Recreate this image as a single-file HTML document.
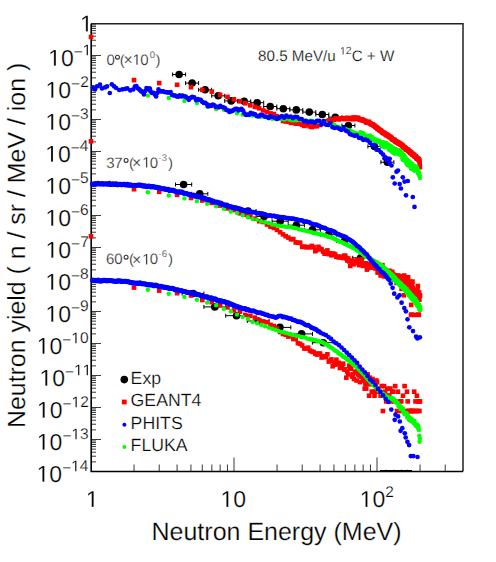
<!DOCTYPE html>
<html><head><meta charset="utf-8"><style>
html,body{margin:0;padding:0;background:#fff;}
body{width:496px;height:562px;overflow:hidden;}
svg{display:block;}
text{font-family:"Liberation Sans", sans-serif;text-rendering:geometricPrecision;stroke:#fff;stroke-width:0.25px;}
.g1{stroke:#fff;stroke-width:0.25px;}
</style></head><body>
<svg width="496" height="562" viewBox="0 0 496 562">
<rect width="496" height="562" fill="#fff"/>
<path d="M91.0 23.50h10 M91.0 45.87h5 M91.0 40.23h5 M91.0 36.23h5 M91.0 33.13h5 M91.0 30.60h5 M91.0 28.46h5 M91.0 26.60h5 M91.0 24.96h5 M91.0 55.50h10 M91.0 77.87h5 M91.0 72.23h5 M91.0 68.23h5 M91.0 65.13h5 M91.0 62.60h5 M91.0 60.46h5 M91.0 58.60h5 M91.0 56.96h5 M91.0 87.50h10 M91.0 109.87h5 M91.0 104.23h5 M91.0 100.23h5 M91.0 97.13h5 M91.0 94.60h5 M91.0 92.46h5 M91.0 90.60h5 M91.0 88.96h5 M91.0 119.50h10 M91.0 141.87h5 M91.0 136.23h5 M91.0 132.23h5 M91.0 129.13h5 M91.0 126.60h5 M91.0 124.46h5 M91.0 122.60h5 M91.0 120.96h5 M91.0 151.50h10 M91.0 173.87h5 M91.0 168.23h5 M91.0 164.23h5 M91.0 161.13h5 M91.0 158.60h5 M91.0 156.46h5 M91.0 154.60h5 M91.0 152.96h5 M91.0 183.50h10 M91.0 205.87h5 M91.0 200.23h5 M91.0 196.23h5 M91.0 193.13h5 M91.0 190.60h5 M91.0 188.46h5 M91.0 186.60h5 M91.0 184.96h5 M91.0 215.50h10 M91.0 237.87h5 M91.0 232.23h5 M91.0 228.23h5 M91.0 225.13h5 M91.0 222.60h5 M91.0 220.46h5 M91.0 218.60h5 M91.0 216.96h5 M91.0 247.50h10 M91.0 269.87h5 M91.0 264.23h5 M91.0 260.23h5 M91.0 257.13h5 M91.0 254.60h5 M91.0 252.46h5 M91.0 250.60h5 M91.0 248.96h5 M91.0 279.50h10 M91.0 301.87h5 M91.0 296.23h5 M91.0 292.23h5 M91.0 289.13h5 M91.0 286.60h5 M91.0 284.46h5 M91.0 282.60h5 M91.0 280.96h5 M91.0 311.50h10 M91.0 333.87h5 M91.0 328.23h5 M91.0 324.23h5 M91.0 321.13h5 M91.0 318.60h5 M91.0 316.46h5 M91.0 314.60h5 M91.0 312.96h5 M91.0 343.50h10 M91.0 365.87h5 M91.0 360.23h5 M91.0 356.23h5 M91.0 353.13h5 M91.0 350.60h5 M91.0 348.46h5 M91.0 346.60h5 M91.0 344.96h5 M91.0 375.50h10 M91.0 397.87h5 M91.0 392.23h5 M91.0 388.23h5 M91.0 385.13h5 M91.0 382.60h5 M91.0 380.46h5 M91.0 378.60h5 M91.0 376.96h5 M91.0 407.50h10 M91.0 429.87h5 M91.0 424.23h5 M91.0 420.23h5 M91.0 417.13h5 M91.0 414.60h5 M91.0 412.46h5 M91.0 410.60h5 M91.0 408.96h5 M91.0 439.50h10 M91.0 461.87h5 M91.0 456.23h5 M91.0 452.23h5 M91.0 449.13h5 M91.0 446.60h5 M91.0 444.46h5 M91.0 442.60h5 M91.0 440.96h5 M91.0 471.50h10 M134.05 471.5v-7 M159.23 471.5v-7 M177.09 471.5v-7 M190.95 471.5v-7 M202.28 471.5v-7 M211.85 471.5v-7 M220.14 471.5v-7 M227.46 471.5v-7 M234.00 471.5v-14 M277.05 471.5v-7 M302.23 471.5v-7 M320.09 471.5v-7 M333.95 471.5v-7 M345.28 471.5v-7 M354.85 471.5v-7 M363.14 471.5v-7 M370.46 471.5v-7 M377.00 471.5v-14 M420.05 471.5v-7 M445.23 471.5v-7" stroke="#3a3a3a" stroke-width="1" fill="none"/><path d="M380 470.6H412M385.9 469.8v1.5M394.1 469.8v1.5M401.6 469.8v1.5M407.1 469.8v1.5" stroke="#000" stroke-width="1.2" fill="none"/><path d="M91.2 23.8V471.5H463.0" stroke="#000" stroke-width="1.6" fill="none"/><path d="M91.2 23.8H463.0V471.5" stroke="#222" stroke-width="1.5" fill="none"/><g><path d="M172.6 74.5H185.6M172.6 72.5v4M185.6 72.5v4" stroke="#000" stroke-width="1" fill="none"/><circle cx="179.1" cy="74.5" r="3.8" fill="#000"/><path d="M185.6 83.1H198.6M185.6 81.1v4M198.6 81.1v4" stroke="#000" stroke-width="1" fill="none"/><circle cx="192.1" cy="83.1" r="3.8" fill="#000"/><path d="M198.6 89.8H211.6M198.6 87.8v4M211.6 87.8v4" stroke="#000" stroke-width="1" fill="none"/><circle cx="205.1" cy="89.8" r="3.8" fill="#000"/><path d="M211.7 95.8H224.7M211.7 93.8v4M224.7 93.8v4" stroke="#000" stroke-width="1" fill="none"/><circle cx="218.2" cy="95.8" r="3.8" fill="#000"/><path d="M224.7 100.9H237.7M224.7 98.9v4M237.7 98.9v4" stroke="#000" stroke-width="1" fill="none"/><circle cx="231.2" cy="100.9" r="3.8" fill="#000"/><path d="M237.7 101.3H250.7M237.7 99.3v4M250.7 99.3v4" stroke="#000" stroke-width="1" fill="none"/><circle cx="244.2" cy="101.3" r="3.8" fill="#000"/><path d="M250.7 102.7H263.7M250.7 100.7v4M263.7 100.7v4" stroke="#000" stroke-width="1" fill="none"/><circle cx="257.2" cy="102.7" r="3.8" fill="#000"/><path d="M263.7 106.5H276.8M263.7 104.5v4M276.8 104.5v4" stroke="#000" stroke-width="1" fill="none"/><circle cx="270.2" cy="106.5" r="3.8" fill="#000"/><path d="M276.8 108.7H289.8M276.8 106.7v4M289.8 106.7v4" stroke="#000" stroke-width="1" fill="none"/><circle cx="283.3" cy="108.7" r="3.8" fill="#000"/><path d="M289.8 109.9H302.8M289.8 107.9v4M302.8 107.9v4" stroke="#000" stroke-width="1" fill="none"/><circle cx="296.3" cy="109.9" r="3.8" fill="#000"/><path d="M302.8 112.1H315.8M302.8 110.1v4M315.8 110.1v4" stroke="#000" stroke-width="1" fill="none"/><circle cx="309.3" cy="112.1" r="3.8" fill="#000"/><path d="M315.8 114.5H328.8M315.8 112.5v4M328.8 112.5v4" stroke="#000" stroke-width="1" fill="none"/><circle cx="322.3" cy="114.5" r="3.8" fill="#000"/><path d="M328.8 117.2H341.9M328.8 115.2v4M341.9 115.2v4" stroke="#000" stroke-width="1" fill="none"/><circle cx="335.3" cy="117.2" r="3.8" fill="#000"/><path d="M341.9 125.5H354.9M341.9 123.5v4M354.9 123.5v4" stroke="#000" stroke-width="1" fill="none"/><circle cx="348.4" cy="125.5" r="3.8" fill="#000"/><path d="M354.9 136.0H367.9M354.9 134.0v4M367.9 134.0v4" stroke="#000" stroke-width="1" fill="none"/><circle cx="361.4" cy="136.0" r="3.8" fill="#000"/><path d="M367.9 146.5H380.9M367.9 144.5v4M380.9 144.5v4" stroke="#000" stroke-width="1" fill="none"/><circle cx="374.4" cy="146.5" r="3.8" fill="#000"/><path d="M380.9 162.2H393.9M380.9 160.2v4M393.9 160.2v4" stroke="#000" stroke-width="1" fill="none"/><circle cx="387.4" cy="162.2" r="3.8" fill="#000"/><path d="M175.5 184.5H191.7M175.5 182.5v4M191.7 182.5v4" stroke="#000" stroke-width="1" fill="none"/><circle cx="183.6" cy="184.5" r="3.8" fill="#000"/><path d="M191.6 193.8H207.8M191.6 191.8v4M207.8 191.8v4" stroke="#000" stroke-width="1" fill="none"/><circle cx="199.7" cy="193.8" r="3.8" fill="#000"/><path d="M239.9 211.1H256.1M239.9 209.1v4M256.1 209.1v4" stroke="#000" stroke-width="1" fill="none"/><circle cx="248.0" cy="211.1" r="3.8" fill="#000"/><path d="M256.1 216.5H272.2M256.1 214.5v4M272.2 214.5v4" stroke="#000" stroke-width="1" fill="none"/><circle cx="264.1" cy="216.5" r="3.8" fill="#000"/><path d="M272.1 221.2H288.2M272.1 219.2v4M288.2 219.2v4" stroke="#000" stroke-width="1" fill="none"/><circle cx="280.2" cy="221.2" r="3.8" fill="#000"/><path d="M288.2 225.2H304.4M288.2 223.2v4M304.4 223.2v4" stroke="#000" stroke-width="1" fill="none"/><circle cx="296.3" cy="225.2" r="3.8" fill="#000"/><path d="M304.3 229.8H320.4M304.3 227.8v4M320.4 227.8v4" stroke="#000" stroke-width="1" fill="none"/><circle cx="312.4" cy="229.8" r="3.8" fill="#000"/><path d="M320.4 234.7H336.6M320.4 232.7v4M336.6 232.7v4" stroke="#000" stroke-width="1" fill="none"/><circle cx="328.5" cy="234.7" r="3.8" fill="#000"/><path d="M336.6 240.8H352.7M336.6 238.8v4M352.7 238.8v4" stroke="#000" stroke-width="1" fill="none"/><circle cx="344.6" cy="240.8" r="3.8" fill="#000"/><path d="M352.7 257.8H368.8M352.7 255.8v4M368.8 255.8v4" stroke="#000" stroke-width="1" fill="none"/><circle cx="360.7" cy="257.8" r="3.8" fill="#000"/><path d="M182.2 293.5H203.9M182.2 291.5v4M203.9 291.5v4" stroke="#000" stroke-width="1" fill="none"/><circle cx="193.1" cy="293.5" r="3.8" fill="#000"/><path d="M203.9 306.9H225.6M203.9 304.9v4M225.6 304.9v4" stroke="#000" stroke-width="1" fill="none"/><circle cx="214.8" cy="306.9" r="3.8" fill="#000"/><path d="M225.7 315.7H247.3M225.7 313.7v4M247.3 313.7v4" stroke="#000" stroke-width="1" fill="none"/><circle cx="236.5" cy="315.7" r="3.8" fill="#000"/><path d="M247.3 321.0H269.1M247.3 319.0v4M269.1 319.0v4" stroke="#000" stroke-width="1" fill="none"/><circle cx="258.2" cy="321.0" r="3.8" fill="#000"/><path d="M269.0 327.4H290.8M269.0 325.4v4M290.8 325.4v4" stroke="#000" stroke-width="1" fill="none"/><circle cx="279.9" cy="327.4" r="3.8" fill="#000"/><path d="M290.8 333.9H312.5M290.8 331.9v4M312.5 331.9v4" stroke="#000" stroke-width="1" fill="none"/><circle cx="301.6" cy="333.9" r="3.8" fill="#000"/><path d="M312.4 342.7H334.1M312.4 340.7v4M334.1 340.7v4" stroke="#000" stroke-width="1" fill="none"/><circle cx="323.3" cy="342.7" r="3.8" fill="#000"/></g><g><rect x="88.7" y="34.6" width="4.6" height="4.6" fill="#ff0000"/><rect x="131.7" y="77.8" width="4.6" height="4.6" fill="#ff0000"/><rect x="156.9" y="80.8" width="4.6" height="4.6" fill="#ff0000"/><rect x="174.8" y="82.5" width="4.6" height="4.6" fill="#ff0000"/><rect x="188.7" y="84.9" width="4.6" height="4.6" fill="#ff0000"/><rect x="200.0" y="87.5" width="4.6" height="4.6" fill="#ff0000"/><rect x="209.5" y="89.3" width="4.6" height="4.6" fill="#ff0000"/><rect x="217.8" y="92.5" width="4.6" height="4.6" fill="#ff0000"/><rect x="225.2" y="94.6" width="4.6" height="4.6" fill="#ff0000"/><rect x="231.7" y="97.0" width="4.6" height="4.6" fill="#ff0000"/><rect x="237.6" y="99.0" width="4.6" height="4.6" fill="#ff0000"/><rect x="243.0" y="101.0" width="4.6" height="4.6" fill="#ff0000"/><rect x="248.0" y="103.0" width="4.6" height="4.6" fill="#ff0000"/><rect x="252.6" y="104.6" width="4.6" height="4.6" fill="#ff0000"/><rect x="256.9" y="106.0" width="4.6" height="4.6" fill="#ff0000"/><rect x="260.9" y="108.1" width="4.6" height="4.6" fill="#ff0000"/><rect x="264.7" y="109.5" width="4.6" height="4.6" fill="#ff0000"/><rect x="268.2" y="111.1" width="4.6" height="4.6" fill="#ff0000"/><rect x="271.6" y="111.7" width="4.6" height="4.6" fill="#ff0000"/><rect x="274.7" y="114.0" width="4.6" height="4.6" fill="#ff0000"/><rect x="277.8" y="115.8" width="4.6" height="4.6" fill="#ff0000"/><rect x="280.7" y="118.7" width="4.6" height="4.6" fill="#ff0000"/><rect x="283.4" y="119.2" width="4.6" height="4.6" fill="#ff0000"/><rect x="286.1" y="119.2" width="4.6" height="4.6" fill="#ff0000"/><rect x="288.6" y="120.6" width="4.6" height="4.6" fill="#ff0000"/><rect x="291.0" y="120.1" width="4.6" height="4.6" fill="#ff0000"/><rect x="293.4" y="121.4" width="4.6" height="4.6" fill="#ff0000"/><rect x="295.6" y="121.1" width="4.6" height="4.6" fill="#ff0000"/><rect x="297.8" y="121.5" width="4.6" height="4.6" fill="#ff0000"/><rect x="299.9" y="122.5" width="4.6" height="4.6" fill="#ff0000"/><rect x="302.0" y="123.6" width="4.6" height="4.6" fill="#ff0000"/><rect x="303.9" y="122.5" width="4.6" height="4.6" fill="#ff0000"/><rect x="305.8" y="123.0" width="4.6" height="4.6" fill="#ff0000"/><rect x="307.7" y="124.1" width="4.6" height="4.6" fill="#ff0000"/><rect x="309.5" y="124.8" width="4.6" height="4.6" fill="#ff0000"/><rect x="311.3" y="123.9" width="4.6" height="4.6" fill="#ff0000"/><rect x="313.0" y="123.2" width="4.6" height="4.6" fill="#ff0000"/><rect x="314.6" y="124.0" width="4.6" height="4.6" fill="#ff0000"/><rect x="316.2" y="121.6" width="4.6" height="4.6" fill="#ff0000"/><rect x="317.8" y="122.7" width="4.6" height="4.6" fill="#ff0000"/><rect x="319.3" y="120.9" width="4.6" height="4.6" fill="#ff0000"/><rect x="320.8" y="120.0" width="4.6" height="4.6" fill="#ff0000"/><rect x="322.3" y="119.3" width="4.6" height="4.6" fill="#ff0000"/><rect x="323.7" y="119.1" width="4.6" height="4.6" fill="#ff0000"/><rect x="325.1" y="119.7" width="4.6" height="4.6" fill="#ff0000"/><rect x="326.5" y="118.1" width="4.6" height="4.6" fill="#ff0000"/><rect x="327.8" y="118.5" width="4.6" height="4.6" fill="#ff0000"/><rect x="329.1" y="118.3" width="4.6" height="4.6" fill="#ff0000"/><rect x="330.4" y="117.5" width="4.6" height="4.6" fill="#ff0000"/><rect x="331.7" y="117.6" width="4.6" height="4.6" fill="#ff0000"/><rect x="332.9" y="116.4" width="4.6" height="4.6" fill="#ff0000"/><rect x="334.1" y="116.2" width="4.6" height="4.6" fill="#ff0000"/><rect x="335.3" y="116.3" width="4.6" height="4.6" fill="#ff0000"/><rect x="336.4" y="117.1" width="4.6" height="4.6" fill="#ff0000"/><rect x="337.6" y="116.5" width="4.6" height="4.6" fill="#ff0000"/><rect x="338.7" y="116.1" width="4.6" height="4.6" fill="#ff0000"/><rect x="339.8" y="116.6" width="4.6" height="4.6" fill="#ff0000"/><rect x="340.9" y="116.2" width="4.6" height="4.6" fill="#ff0000"/><rect x="341.9" y="115.8" width="4.6" height="4.6" fill="#ff0000"/><rect x="343.0" y="116.7" width="4.6" height="4.6" fill="#ff0000"/><rect x="344.0" y="116.5" width="4.6" height="4.6" fill="#ff0000"/><rect x="345.0" y="115.5" width="4.6" height="4.6" fill="#ff0000"/><rect x="346.0" y="116.1" width="4.6" height="4.6" fill="#ff0000"/><rect x="347.0" y="116.0" width="4.6" height="4.6" fill="#ff0000"/><rect x="347.9" y="116.7" width="4.6" height="4.6" fill="#ff0000"/><rect x="348.9" y="116.4" width="4.6" height="4.6" fill="#ff0000"/><rect x="349.8" y="115.5" width="4.6" height="4.6" fill="#ff0000"/><rect x="350.7" y="116.9" width="4.6" height="4.6" fill="#ff0000"/><rect x="351.7" y="115.2" width="4.6" height="4.6" fill="#ff0000"/><rect x="352.5" y="115.8" width="4.6" height="4.6" fill="#ff0000"/><rect x="353.4" y="116.6" width="4.6" height="4.6" fill="#ff0000"/><rect x="354.3" y="115.5" width="4.6" height="4.6" fill="#ff0000"/><rect x="355.2" y="116.3" width="4.6" height="4.6" fill="#ff0000"/><rect x="356.0" y="115.5" width="4.6" height="4.6" fill="#ff0000"/><rect x="356.8" y="116.9" width="4.6" height="4.6" fill="#ff0000"/><rect x="357.7" y="117.2" width="4.6" height="4.6" fill="#ff0000"/><rect x="358.5" y="117.0" width="4.6" height="4.6" fill="#ff0000"/><rect x="359.3" y="117.9" width="4.6" height="4.6" fill="#ff0000"/><rect x="360.1" y="117.1" width="4.6" height="4.6" fill="#ff0000"/><rect x="360.8" y="118.2" width="4.6" height="4.6" fill="#ff0000"/><rect x="361.6" y="118.4" width="4.6" height="4.6" fill="#ff0000"/><rect x="362.4" y="118.7" width="4.6" height="4.6" fill="#ff0000"/><rect x="363.1" y="118.8" width="4.6" height="4.6" fill="#ff0000"/><rect x="363.9" y="119.9" width="4.6" height="4.6" fill="#ff0000"/><rect x="364.6" y="120.4" width="4.6" height="4.6" fill="#ff0000"/><rect x="365.3" y="119.7" width="4.6" height="4.6" fill="#ff0000"/><rect x="366.1" y="120.4" width="4.6" height="4.6" fill="#ff0000"/><rect x="366.8" y="119.5" width="4.6" height="4.6" fill="#ff0000"/><rect x="367.5" y="121.1" width="4.6" height="4.6" fill="#ff0000"/><rect x="368.2" y="121.2" width="4.6" height="4.6" fill="#ff0000"/><rect x="368.8" y="121.9" width="4.6" height="4.6" fill="#ff0000"/><rect x="369.5" y="122.1" width="4.6" height="4.6" fill="#ff0000"/><rect x="370.2" y="122.0" width="4.6" height="4.6" fill="#ff0000"/><rect x="370.9" y="122.6" width="4.6" height="4.6" fill="#ff0000"/><rect x="371.5" y="123.5" width="4.6" height="4.6" fill="#ff0000"/><rect x="372.2" y="123.4" width="4.6" height="4.6" fill="#ff0000"/><rect x="372.8" y="124.4" width="4.6" height="4.6" fill="#ff0000"/><rect x="373.4" y="124.7" width="4.6" height="4.6" fill="#ff0000"/><rect x="374.1" y="125.1" width="4.6" height="4.6" fill="#ff0000"/><rect x="374.7" y="125.5" width="4.6" height="4.6" fill="#ff0000"/><rect x="375.3" y="126.6" width="4.6" height="4.6" fill="#ff0000"/><rect x="375.9" y="126.4" width="4.6" height="4.6" fill="#ff0000"/><rect x="376.5" y="127.0" width="4.6" height="4.6" fill="#ff0000"/><rect x="377.1" y="127.5" width="4.6" height="4.6" fill="#ff0000"/><rect x="377.7" y="128.4" width="4.6" height="4.6" fill="#ff0000"/><rect x="378.3" y="128.0" width="4.6" height="4.6" fill="#ff0000"/><rect x="378.9" y="128.8" width="4.6" height="4.6" fill="#ff0000"/><rect x="379.5" y="129.3" width="4.6" height="4.6" fill="#ff0000"/><rect x="380.1" y="130.0" width="4.6" height="4.6" fill="#ff0000"/><rect x="380.6" y="130.4" width="4.6" height="4.6" fill="#ff0000"/><rect x="381.2" y="130.8" width="4.6" height="4.6" fill="#ff0000"/><rect x="381.7" y="130.6" width="4.6" height="4.6" fill="#ff0000"/><rect x="382.3" y="131.1" width="4.6" height="4.6" fill="#ff0000"/><rect x="382.8" y="131.4" width="4.6" height="4.6" fill="#ff0000"/><rect x="383.4" y="132.3" width="4.6" height="4.6" fill="#ff0000"/><rect x="383.9" y="132.8" width="4.6" height="4.6" fill="#ff0000"/><rect x="384.5" y="132.3" width="4.6" height="4.6" fill="#ff0000"/><rect x="385.0" y="132.7" width="4.6" height="4.6" fill="#ff0000"/><rect x="385.5" y="133.1" width="4.6" height="4.6" fill="#ff0000"/><rect x="386.0" y="133.5" width="4.6" height="4.6" fill="#ff0000"/><rect x="386.5" y="134.1" width="4.6" height="4.6" fill="#ff0000"/><rect x="387.0" y="134.6" width="4.6" height="4.6" fill="#ff0000"/><rect x="387.6" y="134.6" width="4.6" height="4.6" fill="#ff0000"/><rect x="388.1" y="134.7" width="4.6" height="4.6" fill="#ff0000"/><rect x="388.6" y="135.5" width="4.6" height="4.6" fill="#ff0000"/><rect x="389.1" y="135.7" width="4.6" height="4.6" fill="#ff0000"/><rect x="389.5" y="136.3" width="4.6" height="4.6" fill="#ff0000"/><rect x="390.0" y="137.0" width="4.6" height="4.6" fill="#ff0000"/><rect x="390.5" y="137.1" width="4.6" height="4.6" fill="#ff0000"/><rect x="391.0" y="137.2" width="4.6" height="4.6" fill="#ff0000"/><rect x="391.5" y="137.6" width="4.6" height="4.6" fill="#ff0000"/><rect x="391.9" y="138.0" width="4.6" height="4.6" fill="#ff0000"/><rect x="392.4" y="137.7" width="4.6" height="4.6" fill="#ff0000"/><rect x="392.9" y="138.9" width="4.6" height="4.6" fill="#ff0000"/><rect x="393.3" y="139.1" width="4.6" height="4.6" fill="#ff0000"/><rect x="393.8" y="139.5" width="4.6" height="4.6" fill="#ff0000"/><rect x="394.3" y="139.8" width="4.6" height="4.6" fill="#ff0000"/><rect x="394.7" y="139.7" width="4.6" height="4.6" fill="#ff0000"/><rect x="395.2" y="140.0" width="4.6" height="4.6" fill="#ff0000"/><rect x="395.6" y="140.0" width="4.6" height="4.6" fill="#ff0000"/><rect x="396.0" y="140.9" width="4.6" height="4.6" fill="#ff0000"/><rect x="396.5" y="140.6" width="4.6" height="4.6" fill="#ff0000"/><rect x="396.9" y="140.9" width="4.6" height="4.6" fill="#ff0000"/><rect x="397.3" y="141.4" width="4.6" height="4.6" fill="#ff0000"/><rect x="397.8" y="141.6" width="4.6" height="4.6" fill="#ff0000"/><rect x="398.2" y="142.1" width="4.6" height="4.6" fill="#ff0000"/><rect x="398.6" y="142.2" width="4.6" height="4.6" fill="#ff0000"/><rect x="399.0" y="142.4" width="4.6" height="4.6" fill="#ff0000"/><rect x="399.5" y="142.9" width="4.6" height="4.6" fill="#ff0000"/><rect x="399.9" y="143.2" width="4.6" height="4.6" fill="#ff0000"/><rect x="400.3" y="143.7" width="4.6" height="4.6" fill="#ff0000"/><rect x="400.7" y="143.7" width="4.6" height="4.6" fill="#ff0000"/><rect x="401.1" y="144.9" width="4.6" height="4.6" fill="#ff0000"/><rect x="401.5" y="144.9" width="4.6" height="4.6" fill="#ff0000"/><rect x="401.9" y="144.8" width="4.6" height="4.6" fill="#ff0000"/><rect x="402.3" y="145.2" width="4.6" height="4.6" fill="#ff0000"/><rect x="402.7" y="145.6" width="4.6" height="4.6" fill="#ff0000"/><rect x="403.1" y="145.9" width="4.6" height="4.6" fill="#ff0000"/><rect x="403.5" y="146.0" width="4.6" height="4.6" fill="#ff0000"/><rect x="403.9" y="147.0" width="4.6" height="4.6" fill="#ff0000"/><rect x="404.3" y="147.5" width="4.6" height="4.6" fill="#ff0000"/><rect x="404.7" y="147.3" width="4.6" height="4.6" fill="#ff0000"/><rect x="405.0" y="147.6" width="4.6" height="4.6" fill="#ff0000"/><rect x="405.4" y="147.5" width="4.6" height="4.6" fill="#ff0000"/><rect x="405.8" y="147.8" width="4.6" height="4.6" fill="#ff0000"/><rect x="406.2" y="148.4" width="4.6" height="4.6" fill="#ff0000"/><rect x="406.5" y="148.6" width="4.6" height="4.6" fill="#ff0000"/><rect x="406.9" y="149.5" width="4.6" height="4.6" fill="#ff0000"/><rect x="407.3" y="149.1" width="4.6" height="4.6" fill="#ff0000"/><rect x="407.7" y="149.3" width="4.6" height="4.6" fill="#ff0000"/><rect x="408.0" y="150.5" width="4.6" height="4.6" fill="#ff0000"/><rect x="408.4" y="150.4" width="4.6" height="4.6" fill="#ff0000"/><rect x="408.7" y="150.3" width="4.6" height="4.6" fill="#ff0000"/><rect x="409.1" y="151.0" width="4.6" height="4.6" fill="#ff0000"/><rect x="409.5" y="150.8" width="4.6" height="4.6" fill="#ff0000"/><rect x="409.8" y="151.5" width="4.6" height="4.6" fill="#ff0000"/><rect x="410.2" y="152.3" width="4.6" height="4.6" fill="#ff0000"/><rect x="410.5" y="152.5" width="4.6" height="4.6" fill="#ff0000"/><rect x="410.9" y="152.6" width="4.6" height="4.6" fill="#ff0000"/><rect x="411.2" y="152.4" width="4.6" height="4.6" fill="#ff0000"/><rect x="411.5" y="152.8" width="4.6" height="4.6" fill="#ff0000"/><rect x="411.9" y="152.9" width="4.6" height="4.6" fill="#ff0000"/><rect x="412.2" y="153.8" width="4.6" height="4.6" fill="#ff0000"/><rect x="412.6" y="153.8" width="4.6" height="4.6" fill="#ff0000"/><rect x="412.9" y="154.3" width="4.6" height="4.6" fill="#ff0000"/><rect x="413.2" y="154.2" width="4.6" height="4.6" fill="#ff0000"/><rect x="413.6" y="154.3" width="4.6" height="4.6" fill="#ff0000"/><rect x="413.9" y="155.2" width="4.6" height="4.6" fill="#ff0000"/><rect x="414.2" y="155.7" width="4.6" height="4.6" fill="#ff0000"/><rect x="414.6" y="155.8" width="4.6" height="4.6" fill="#ff0000"/><rect x="414.9" y="156.1" width="4.6" height="4.6" fill="#ff0000"/><rect x="415.2" y="156.4" width="4.6" height="4.6" fill="#ff0000"/><rect x="415.5" y="156.7" width="4.6" height="4.6" fill="#ff0000"/><rect x="415.9" y="156.5" width="4.6" height="4.6" fill="#ff0000"/><rect x="416.2" y="157.2" width="4.6" height="4.6" fill="#ff0000"/><rect x="416.5" y="157.4" width="4.6" height="4.6" fill="#ff0000"/><rect x="416.8" y="157.6" width="4.6" height="4.6" fill="#ff0000"/><rect x="417.1" y="158.7" width="4.6" height="4.6" fill="#ff0000"/><rect x="417.4" y="160.8" width="4.6" height="4.6" fill="#ff0000"/><rect x="417.7" y="164.9" width="4.6" height="4.6" fill="#ff0000"/><rect x="88.7" y="139.0" width="4.6" height="4.6" fill="#ff0000"/><rect x="131.7" y="186.9" width="4.6" height="4.6" fill="#ff0000"/><rect x="156.9" y="189.5" width="4.6" height="4.6" fill="#ff0000"/><rect x="174.8" y="192.5" width="4.6" height="4.6" fill="#ff0000"/><rect x="188.7" y="195.7" width="4.6" height="4.6" fill="#ff0000"/><rect x="200.0" y="198.2" width="4.6" height="4.6" fill="#ff0000"/><rect x="209.5" y="200.6" width="4.6" height="4.6" fill="#ff0000"/><rect x="217.8" y="203.3" width="4.6" height="4.6" fill="#ff0000"/><rect x="225.2" y="206.1" width="4.6" height="4.6" fill="#ff0000"/><rect x="231.7" y="207.7" width="4.6" height="4.6" fill="#ff0000"/><rect x="237.6" y="211.0" width="4.6" height="4.6" fill="#ff0000"/><rect x="243.0" y="212.4" width="4.6" height="4.6" fill="#ff0000"/><rect x="248.0" y="214.1" width="4.6" height="4.6" fill="#ff0000"/><rect x="252.6" y="216.4" width="4.6" height="4.6" fill="#ff0000"/><rect x="256.9" y="218.9" width="4.6" height="4.6" fill="#ff0000"/><rect x="260.9" y="219.7" width="4.6" height="4.6" fill="#ff0000"/><rect x="264.7" y="222.2" width="4.6" height="4.6" fill="#ff0000"/><rect x="268.2" y="224.4" width="4.6" height="4.6" fill="#ff0000"/><rect x="271.6" y="225.6" width="4.6" height="4.6" fill="#ff0000"/><rect x="274.7" y="227.6" width="4.6" height="4.6" fill="#ff0000"/><rect x="277.8" y="229.9" width="4.6" height="4.6" fill="#ff0000"/><rect x="280.7" y="232.1" width="4.6" height="4.6" fill="#ff0000"/><rect x="283.4" y="233.9" width="4.6" height="4.6" fill="#ff0000"/><rect x="286.1" y="235.3" width="4.6" height="4.6" fill="#ff0000"/><rect x="288.6" y="237.0" width="4.6" height="4.6" fill="#ff0000"/><rect x="291.0" y="236.8" width="4.6" height="4.6" fill="#ff0000"/><rect x="293.4" y="240.1" width="4.6" height="4.6" fill="#ff0000"/><rect x="295.6" y="240.5" width="4.6" height="4.6" fill="#ff0000"/><rect x="297.8" y="240.4" width="4.6" height="4.6" fill="#ff0000"/><rect x="299.9" y="244.6" width="4.6" height="4.6" fill="#ff0000"/><rect x="302.0" y="244.3" width="4.6" height="4.6" fill="#ff0000"/><rect x="303.9" y="245.0" width="4.6" height="4.6" fill="#ff0000"/><rect x="305.8" y="244.7" width="4.6" height="4.6" fill="#ff0000"/><rect x="307.7" y="245.0" width="4.6" height="4.6" fill="#ff0000"/><rect x="309.5" y="243.6" width="4.6" height="4.6" fill="#ff0000"/><rect x="311.3" y="244.8" width="4.6" height="4.6" fill="#ff0000"/><rect x="313.0" y="248.9" width="4.6" height="4.6" fill="#ff0000"/><rect x="314.6" y="247.7" width="4.6" height="4.6" fill="#ff0000"/><rect x="316.2" y="244.5" width="4.6" height="4.6" fill="#ff0000"/><rect x="317.8" y="246.5" width="4.6" height="4.6" fill="#ff0000"/><rect x="319.3" y="247.1" width="4.6" height="4.6" fill="#ff0000"/><rect x="320.8" y="249.3" width="4.6" height="4.6" fill="#ff0000"/><rect x="322.3" y="251.4" width="4.6" height="4.6" fill="#ff0000"/><rect x="323.7" y="251.2" width="4.6" height="4.6" fill="#ff0000"/><rect x="325.1" y="248.1" width="4.6" height="4.6" fill="#ff0000"/><rect x="326.5" y="251.9" width="4.6" height="4.6" fill="#ff0000"/><rect x="327.8" y="251.0" width="4.6" height="4.6" fill="#ff0000"/><rect x="329.1" y="253.0" width="4.6" height="4.6" fill="#ff0000"/><rect x="330.4" y="251.4" width="4.6" height="4.6" fill="#ff0000"/><rect x="331.7" y="251.5" width="4.6" height="4.6" fill="#ff0000"/><rect x="332.9" y="252.2" width="4.6" height="4.6" fill="#ff0000"/><rect x="334.1" y="254.6" width="4.6" height="4.6" fill="#ff0000"/><rect x="335.3" y="254.4" width="4.6" height="4.6" fill="#ff0000"/><rect x="336.4" y="255.0" width="4.6" height="4.6" fill="#ff0000"/><rect x="337.6" y="254.8" width="4.6" height="4.6" fill="#ff0000"/><rect x="338.7" y="254.4" width="4.6" height="4.6" fill="#ff0000"/><rect x="339.8" y="255.2" width="4.6" height="4.6" fill="#ff0000"/><rect x="340.9" y="255.7" width="4.6" height="4.6" fill="#ff0000"/><rect x="341.9" y="253.4" width="4.6" height="4.6" fill="#ff0000"/><rect x="343.0" y="253.6" width="4.6" height="4.6" fill="#ff0000"/><rect x="344.0" y="255.9" width="4.6" height="4.6" fill="#ff0000"/><rect x="345.0" y="258.2" width="4.6" height="4.6" fill="#ff0000"/><rect x="346.0" y="256.2" width="4.6" height="4.6" fill="#ff0000"/><rect x="347.0" y="259.1" width="4.6" height="4.6" fill="#ff0000"/><rect x="347.9" y="263.6" width="4.6" height="4.6" fill="#ff0000"/><rect x="348.9" y="258.2" width="4.6" height="4.6" fill="#ff0000"/><rect x="349.8" y="259.4" width="4.6" height="4.6" fill="#ff0000"/><rect x="350.7" y="261.3" width="4.6" height="4.6" fill="#ff0000"/><rect x="351.7" y="262.0" width="4.6" height="4.6" fill="#ff0000"/><rect x="352.5" y="258.5" width="4.6" height="4.6" fill="#ff0000"/><rect x="353.4" y="259.4" width="4.6" height="4.6" fill="#ff0000"/><rect x="354.3" y="260.3" width="4.6" height="4.6" fill="#ff0000"/><rect x="355.2" y="257.4" width="4.6" height="4.6" fill="#ff0000"/><rect x="356.0" y="259.7" width="4.6" height="4.6" fill="#ff0000"/><rect x="356.8" y="262.8" width="4.6" height="4.6" fill="#ff0000"/><rect x="357.7" y="262.4" width="4.6" height="4.6" fill="#ff0000"/><rect x="358.5" y="259.7" width="4.6" height="4.6" fill="#ff0000"/><rect x="359.3" y="256.9" width="4.6" height="4.6" fill="#ff0000"/><rect x="360.1" y="262.4" width="4.6" height="4.6" fill="#ff0000"/><rect x="360.8" y="263.6" width="4.6" height="4.6" fill="#ff0000"/><rect x="361.6" y="262.4" width="4.6" height="4.6" fill="#ff0000"/><rect x="362.4" y="261.3" width="4.6" height="4.6" fill="#ff0000"/><rect x="363.1" y="262.0" width="4.6" height="4.6" fill="#ff0000"/><rect x="363.9" y="261.0" width="4.6" height="4.6" fill="#ff0000"/><rect x="364.6" y="267.3" width="4.6" height="4.6" fill="#ff0000"/><rect x="365.3" y="265.8" width="4.6" height="4.6" fill="#ff0000"/><rect x="366.1" y="262.8" width="4.6" height="4.6" fill="#ff0000"/><rect x="366.8" y="262.4" width="4.6" height="4.6" fill="#ff0000"/><rect x="367.5" y="262.0" width="4.6" height="4.6" fill="#ff0000"/><rect x="368.2" y="263.2" width="4.6" height="4.6" fill="#ff0000"/><rect x="368.8" y="265.3" width="4.6" height="4.6" fill="#ff0000"/><rect x="369.5" y="264.9" width="4.6" height="4.6" fill="#ff0000"/><rect x="370.2" y="262.4" width="4.6" height="4.6" fill="#ff0000"/><rect x="370.9" y="263.6" width="4.6" height="4.6" fill="#ff0000"/><rect x="371.5" y="264.0" width="4.6" height="4.6" fill="#ff0000"/><rect x="372.2" y="264.9" width="4.6" height="4.6" fill="#ff0000"/><rect x="372.8" y="262.8" width="4.6" height="4.6" fill="#ff0000"/><rect x="373.4" y="266.3" width="4.6" height="4.6" fill="#ff0000"/><rect x="374.1" y="265.8" width="4.6" height="4.6" fill="#ff0000"/><rect x="374.7" y="264.0" width="4.6" height="4.6" fill="#ff0000"/><rect x="375.3" y="270.3" width="4.6" height="4.6" fill="#ff0000"/><rect x="375.9" y="265.8" width="4.6" height="4.6" fill="#ff0000"/><rect x="376.5" y="265.3" width="4.6" height="4.6" fill="#ff0000"/><rect x="377.1" y="269.0" width="4.6" height="4.6" fill="#ff0000"/><rect x="377.7" y="267.3" width="4.6" height="4.6" fill="#ff0000"/><rect x="378.3" y="273.2" width="4.6" height="4.6" fill="#ff0000"/><rect x="378.9" y="267.9" width="4.6" height="4.6" fill="#ff0000"/><rect x="379.5" y="265.3" width="4.6" height="4.6" fill="#ff0000"/><rect x="380.1" y="262.8" width="4.6" height="4.6" fill="#ff0000"/><rect x="380.6" y="271.0" width="4.6" height="4.6" fill="#ff0000"/><rect x="381.2" y="266.8" width="4.6" height="4.6" fill="#ff0000"/><rect x="381.7" y="274.1" width="4.6" height="4.6" fill="#ff0000"/><rect x="382.3" y="268.4" width="4.6" height="4.6" fill="#ff0000"/><rect x="382.8" y="272.4" width="4.6" height="4.6" fill="#ff0000"/><rect x="383.4" y="270.3" width="4.6" height="4.6" fill="#ff0000"/><rect x="383.9" y="271.0" width="4.6" height="4.6" fill="#ff0000"/><rect x="384.5" y="269.0" width="4.6" height="4.6" fill="#ff0000"/><rect x="385.0" y="270.3" width="4.6" height="4.6" fill="#ff0000"/><rect x="385.5" y="271.0" width="4.6" height="4.6" fill="#ff0000"/><rect x="386.0" y="271.7" width="4.6" height="4.6" fill="#ff0000"/><rect x="386.5" y="269.0" width="4.6" height="4.6" fill="#ff0000"/><rect x="387.0" y="268.4" width="4.6" height="4.6" fill="#ff0000"/><rect x="387.6" y="272.4" width="4.6" height="4.6" fill="#ff0000"/><rect x="388.1" y="269.6" width="4.6" height="4.6" fill="#ff0000"/><rect x="388.6" y="274.1" width="4.6" height="4.6" fill="#ff0000"/><rect x="389.1" y="271.7" width="4.6" height="4.6" fill="#ff0000"/><rect x="389.5" y="271.0" width="4.6" height="4.6" fill="#ff0000"/><rect x="390.0" y="269.6" width="4.6" height="4.6" fill="#ff0000"/><rect x="390.5" y="273.2" width="4.6" height="4.6" fill="#ff0000"/><rect x="391.0" y="273.2" width="4.6" height="4.6" fill="#ff0000"/><rect x="391.5" y="272.4" width="4.6" height="4.6" fill="#ff0000"/><rect x="391.9" y="277.0" width="4.6" height="4.6" fill="#ff0000"/><rect x="392.4" y="273.2" width="4.6" height="4.6" fill="#ff0000"/><rect x="392.9" y="275.0" width="4.6" height="4.6" fill="#ff0000"/><rect x="393.3" y="273.2" width="4.6" height="4.6" fill="#ff0000"/><rect x="393.8" y="277.0" width="4.6" height="4.6" fill="#ff0000"/><rect x="394.3" y="280.6" width="4.6" height="4.6" fill="#ff0000"/><rect x="394.7" y="274.1" width="4.6" height="4.6" fill="#ff0000"/><rect x="395.2" y="274.1" width="4.6" height="4.6" fill="#ff0000"/><rect x="395.6" y="275.9" width="4.6" height="4.6" fill="#ff0000"/><rect x="396.0" y="273.2" width="4.6" height="4.6" fill="#ff0000"/><rect x="396.5" y="275.9" width="4.6" height="4.6" fill="#ff0000"/><rect x="396.9" y="277.0" width="4.6" height="4.6" fill="#ff0000"/><rect x="397.3" y="274.1" width="4.6" height="4.6" fill="#ff0000"/><rect x="397.8" y="280.6" width="4.6" height="4.6" fill="#ff0000"/><rect x="398.2" y="278.1" width="4.6" height="4.6" fill="#ff0000"/><rect x="398.6" y="275.9" width="4.6" height="4.6" fill="#ff0000"/><rect x="399.0" y="274.1" width="4.6" height="4.6" fill="#ff0000"/><rect x="399.5" y="277.0" width="4.6" height="4.6" fill="#ff0000"/><rect x="399.9" y="275.9" width="4.6" height="4.6" fill="#ff0000"/><rect x="400.3" y="279.3" width="4.6" height="4.6" fill="#ff0000"/><rect x="400.7" y="277.0" width="4.6" height="4.6" fill="#ff0000"/><rect x="401.1" y="274.1" width="4.6" height="4.6" fill="#ff0000"/><rect x="401.5" y="280.6" width="4.6" height="4.6" fill="#ff0000"/><rect x="401.9" y="273.2" width="4.6" height="4.6" fill="#ff0000"/><rect x="402.3" y="280.6" width="4.6" height="4.6" fill="#ff0000"/><rect x="402.7" y="279.3" width="4.6" height="4.6" fill="#ff0000"/><rect x="403.1" y="279.3" width="4.6" height="4.6" fill="#ff0000"/><rect x="403.5" y="277.0" width="4.6" height="4.6" fill="#ff0000"/><rect x="403.9" y="285.6" width="4.6" height="4.6" fill="#ff0000"/><rect x="404.3" y="290.2" width="4.6" height="4.6" fill="#ff0000"/><rect x="404.7" y="279.3" width="4.6" height="4.6" fill="#ff0000"/><rect x="405.0" y="279.3" width="4.6" height="4.6" fill="#ff0000"/><rect x="405.4" y="279.3" width="4.6" height="4.6" fill="#ff0000"/><rect x="405.8" y="275.0" width="4.6" height="4.6" fill="#ff0000"/><rect x="406.2" y="282.1" width="4.6" height="4.6" fill="#ff0000"/><rect x="406.5" y="282.1" width="4.6" height="4.6" fill="#ff0000"/><rect x="406.9" y="280.6" width="4.6" height="4.6" fill="#ff0000"/><rect x="407.3" y="282.1" width="4.6" height="4.6" fill="#ff0000"/><rect x="407.7" y="279.3" width="4.6" height="4.6" fill="#ff0000"/><rect x="408.0" y="290.2" width="4.6" height="4.6" fill="#ff0000"/><rect x="408.4" y="285.6" width="4.6" height="4.6" fill="#ff0000"/><rect x="408.7" y="312.6" width="4.6" height="4.6" fill="#ff0000"/><rect x="409.1" y="282.1" width="4.6" height="4.6" fill="#ff0000"/><rect x="409.5" y="287.7" width="4.6" height="4.6" fill="#ff0000"/><rect x="409.8" y="282.1" width="4.6" height="4.6" fill="#ff0000"/><rect x="410.2" y="279.3" width="4.6" height="4.6" fill="#ff0000"/><rect x="410.5" y="285.6" width="4.6" height="4.6" fill="#ff0000"/><rect x="410.9" y="287.7" width="4.6" height="4.6" fill="#ff0000"/><rect x="411.2" y="290.2" width="4.6" height="4.6" fill="#ff0000"/><rect x="411.5" y="290.2" width="4.6" height="4.6" fill="#ff0000"/><rect x="411.9" y="290.2" width="4.6" height="4.6" fill="#ff0000"/><rect x="412.2" y="312.6" width="4.6" height="4.6" fill="#ff0000"/><rect x="412.6" y="290.2" width="4.6" height="4.6" fill="#ff0000"/><rect x="412.9" y="290.2" width="4.6" height="4.6" fill="#ff0000"/><rect x="413.2" y="290.2" width="4.6" height="4.6" fill="#ff0000"/><rect x="413.6" y="293.3" width="4.6" height="4.6" fill="#ff0000"/><rect x="413.9" y="290.2" width="4.6" height="4.6" fill="#ff0000"/><rect x="414.2" y="287.7" width="4.6" height="4.6" fill="#ff0000"/><rect x="414.9" y="290.2" width="4.6" height="4.6" fill="#ff0000"/><rect x="415.2" y="287.7" width="4.6" height="4.6" fill="#ff0000"/><rect x="415.5" y="283.7" width="4.6" height="4.6" fill="#ff0000"/><rect x="415.9" y="297.3" width="4.6" height="4.6" fill="#ff0000"/><rect x="416.2" y="303.0" width="4.6" height="4.6" fill="#ff0000"/><rect x="416.5" y="312.6" width="4.6" height="4.6" fill="#ff0000"/><rect x="416.8" y="290.2" width="4.6" height="4.6" fill="#ff0000"/><rect x="417.1" y="297.3" width="4.6" height="4.6" fill="#ff0000"/><rect x="417.4" y="293.3" width="4.6" height="4.6" fill="#ff0000"/><rect x="417.7" y="293.3" width="4.6" height="4.6" fill="#ff0000"/><rect x="409.2" y="312.3" width="4.6" height="4.6" fill="#ff0000"/><rect x="416.0" y="312.3" width="4.6" height="4.6" fill="#ff0000"/><rect x="408.9" y="302.6" width="4.6" height="4.6" fill="#ff0000"/><rect x="401.7" y="293.0" width="4.6" height="4.6" fill="#ff0000"/><rect x="399.3" y="286.5" width="4.6" height="4.6" fill="#ff0000"/><rect x="88.7" y="234.0" width="4.6" height="4.6" fill="#ff0000"/><rect x="131.7" y="285.3" width="4.6" height="4.6" fill="#ff0000"/><rect x="156.9" y="288.3" width="4.6" height="4.6" fill="#ff0000"/><rect x="174.8" y="290.9" width="4.6" height="4.6" fill="#ff0000"/><rect x="188.7" y="293.2" width="4.6" height="4.6" fill="#ff0000"/><rect x="200.0" y="297.7" width="4.6" height="4.6" fill="#ff0000"/><rect x="209.5" y="299.8" width="4.6" height="4.6" fill="#ff0000"/><rect x="217.8" y="302.8" width="4.6" height="4.6" fill="#ff0000"/><rect x="225.2" y="305.1" width="4.6" height="4.6" fill="#ff0000"/><rect x="231.7" y="308.1" width="4.6" height="4.6" fill="#ff0000"/><rect x="237.6" y="309.4" width="4.6" height="4.6" fill="#ff0000"/><rect x="243.0" y="312.6" width="4.6" height="4.6" fill="#ff0000"/><rect x="248.0" y="313.5" width="4.6" height="4.6" fill="#ff0000"/><rect x="252.6" y="315.3" width="4.6" height="4.6" fill="#ff0000"/><rect x="256.9" y="317.9" width="4.6" height="4.6" fill="#ff0000"/><rect x="260.9" y="319.1" width="4.6" height="4.6" fill="#ff0000"/><rect x="264.7" y="319.9" width="4.6" height="4.6" fill="#ff0000"/><rect x="268.2" y="322.6" width="4.6" height="4.6" fill="#ff0000"/><rect x="271.6" y="323.8" width="4.6" height="4.6" fill="#ff0000"/><rect x="274.7" y="326.2" width="4.6" height="4.6" fill="#ff0000"/><rect x="277.8" y="329.7" width="4.6" height="4.6" fill="#ff0000"/><rect x="280.7" y="331.7" width="4.6" height="4.6" fill="#ff0000"/><rect x="283.4" y="332.4" width="4.6" height="4.6" fill="#ff0000"/><rect x="286.1" y="334.3" width="4.6" height="4.6" fill="#ff0000"/><rect x="288.6" y="333.4" width="4.6" height="4.6" fill="#ff0000"/><rect x="291.0" y="336.7" width="4.6" height="4.6" fill="#ff0000"/><rect x="293.4" y="336.7" width="4.6" height="4.6" fill="#ff0000"/><rect x="295.6" y="340.8" width="4.6" height="4.6" fill="#ff0000"/><rect x="297.8" y="341.5" width="4.6" height="4.6" fill="#ff0000"/><rect x="299.9" y="343.1" width="4.6" height="4.6" fill="#ff0000"/><rect x="302.0" y="346.2" width="4.6" height="4.6" fill="#ff0000"/><rect x="303.9" y="346.3" width="4.6" height="4.6" fill="#ff0000"/><rect x="305.8" y="345.4" width="4.6" height="4.6" fill="#ff0000"/><rect x="307.7" y="348.3" width="4.6" height="4.6" fill="#ff0000"/><rect x="309.5" y="349.3" width="4.6" height="4.6" fill="#ff0000"/><rect x="311.3" y="349.7" width="4.6" height="4.6" fill="#ff0000"/><rect x="313.0" y="351.3" width="4.6" height="4.6" fill="#ff0000"/><rect x="314.6" y="352.3" width="4.6" height="4.6" fill="#ff0000"/><rect x="316.2" y="351.3" width="4.6" height="4.6" fill="#ff0000"/><rect x="317.8" y="351.3" width="4.6" height="4.6" fill="#ff0000"/><rect x="319.3" y="355.2" width="4.6" height="4.6" fill="#ff0000"/><rect x="320.8" y="353.8" width="4.6" height="4.6" fill="#ff0000"/><rect x="322.3" y="354.3" width="4.6" height="4.6" fill="#ff0000"/><rect x="323.7" y="354.9" width="4.6" height="4.6" fill="#ff0000"/><rect x="325.1" y="352.0" width="4.6" height="4.6" fill="#ff0000"/><rect x="326.5" y="359.3" width="4.6" height="4.6" fill="#ff0000"/><rect x="327.8" y="358.5" width="4.6" height="4.6" fill="#ff0000"/><rect x="329.1" y="357.1" width="4.6" height="4.6" fill="#ff0000"/><rect x="330.4" y="364.0" width="4.6" height="4.6" fill="#ff0000"/><rect x="331.7" y="360.5" width="4.6" height="4.6" fill="#ff0000"/><rect x="332.9" y="362.4" width="4.6" height="4.6" fill="#ff0000"/><rect x="334.1" y="357.4" width="4.6" height="4.6" fill="#ff0000"/><rect x="335.3" y="361.4" width="4.6" height="4.6" fill="#ff0000"/><rect x="336.4" y="360.5" width="4.6" height="4.6" fill="#ff0000"/><rect x="337.6" y="365.7" width="4.6" height="4.6" fill="#ff0000"/><rect x="338.7" y="361.9" width="4.6" height="4.6" fill="#ff0000"/><rect x="339.8" y="363.4" width="4.6" height="4.6" fill="#ff0000"/><rect x="340.9" y="361.4" width="4.6" height="4.6" fill="#ff0000"/><rect x="341.9" y="367.1" width="4.6" height="4.6" fill="#ff0000"/><rect x="343.0" y="367.1" width="4.6" height="4.6" fill="#ff0000"/><rect x="344.0" y="375.4" width="4.6" height="4.6" fill="#ff0000"/><rect x="345.0" y="369.3" width="4.6" height="4.6" fill="#ff0000"/><rect x="346.0" y="372.0" width="4.6" height="4.6" fill="#ff0000"/><rect x="347.0" y="363.4" width="4.6" height="4.6" fill="#ff0000"/><rect x="347.9" y="365.7" width="4.6" height="4.6" fill="#ff0000"/><rect x="348.9" y="366.4" width="4.6" height="4.6" fill="#ff0000"/><rect x="349.8" y="374.2" width="4.6" height="4.6" fill="#ff0000"/><rect x="350.7" y="372.0" width="4.6" height="4.6" fill="#ff0000"/><rect x="351.7" y="376.7" width="4.6" height="4.6" fill="#ff0000"/><rect x="352.5" y="370.2" width="4.6" height="4.6" fill="#ff0000"/><rect x="353.4" y="369.3" width="4.6" height="4.6" fill="#ff0000"/><rect x="354.3" y="378.2" width="4.6" height="4.6" fill="#ff0000"/><rect x="355.2" y="369.3" width="4.6" height="4.6" fill="#ff0000"/><rect x="356.0" y="372.0" width="4.6" height="4.6" fill="#ff0000"/><rect x="356.8" y="373.1" width="4.6" height="4.6" fill="#ff0000"/><rect x="357.7" y="379.8" width="4.6" height="4.6" fill="#ff0000"/><rect x="358.5" y="374.2" width="4.6" height="4.6" fill="#ff0000"/><rect x="359.3" y="374.2" width="4.6" height="4.6" fill="#ff0000"/><rect x="360.1" y="374.2" width="4.6" height="4.6" fill="#ff0000"/><rect x="360.8" y="378.2" width="4.6" height="4.6" fill="#ff0000"/><rect x="361.6" y="376.7" width="4.6" height="4.6" fill="#ff0000"/><rect x="362.4" y="386.3" width="4.6" height="4.6" fill="#ff0000"/><rect x="363.1" y="381.7" width="4.6" height="4.6" fill="#ff0000"/><rect x="363.9" y="386.3" width="4.6" height="4.6" fill="#ff0000"/><rect x="364.6" y="381.7" width="4.6" height="4.6" fill="#ff0000"/><rect x="365.3" y="372.0" width="4.6" height="4.6" fill="#ff0000"/><rect x="366.1" y="379.8" width="4.6" height="4.6" fill="#ff0000"/><rect x="366.8" y="393.4" width="4.6" height="4.6" fill="#ff0000"/><rect x="367.5" y="375.4" width="4.6" height="4.6" fill="#ff0000"/><rect x="368.2" y="381.7" width="4.6" height="4.6" fill="#ff0000"/><rect x="368.8" y="381.7" width="4.6" height="4.6" fill="#ff0000"/><rect x="369.5" y="389.4" width="4.6" height="4.6" fill="#ff0000"/><rect x="370.2" y="376.7" width="4.6" height="4.6" fill="#ff0000"/><rect x="370.9" y="389.4" width="4.6" height="4.6" fill="#ff0000"/><rect x="371.5" y="381.7" width="4.6" height="4.6" fill="#ff0000"/><rect x="372.2" y="393.4" width="4.6" height="4.6" fill="#ff0000"/><rect x="372.8" y="389.4" width="4.6" height="4.6" fill="#ff0000"/><rect x="373.4" y="381.7" width="4.6" height="4.6" fill="#ff0000"/><rect x="374.1" y="378.2" width="4.6" height="4.6" fill="#ff0000"/><rect x="374.7" y="379.8" width="4.6" height="4.6" fill="#ff0000"/><rect x="375.9" y="386.3" width="4.6" height="4.6" fill="#ff0000"/><rect x="377.1" y="389.4" width="4.6" height="4.6" fill="#ff0000"/><rect x="378.3" y="393.4" width="4.6" height="4.6" fill="#ff0000"/><rect x="379.5" y="383.8" width="4.6" height="4.6" fill="#ff0000"/><rect x="380.6" y="408.7" width="4.6" height="4.6" fill="#ff0000"/><rect x="381.7" y="383.8" width="4.6" height="4.6" fill="#ff0000"/><rect x="382.8" y="389.4" width="4.6" height="4.6" fill="#ff0000"/><rect x="383.9" y="399.1" width="4.6" height="4.6" fill="#ff0000"/><rect x="385.0" y="386.3" width="4.6" height="4.6" fill="#ff0000"/><rect x="386.0" y="393.4" width="4.6" height="4.6" fill="#ff0000"/><rect x="387.0" y="393.4" width="4.6" height="4.6" fill="#ff0000"/><rect x="388.1" y="386.3" width="4.6" height="4.6" fill="#ff0000"/><rect x="389.1" y="399.1" width="4.6" height="4.6" fill="#ff0000"/><rect x="390.0" y="389.4" width="4.6" height="4.6" fill="#ff0000"/><rect x="391.0" y="389.4" width="4.6" height="4.6" fill="#ff0000"/><rect x="391.9" y="399.1" width="4.6" height="4.6" fill="#ff0000"/><rect x="392.9" y="383.8" width="4.6" height="4.6" fill="#ff0000"/><rect x="394.7" y="408.7" width="4.6" height="4.6" fill="#ff0000"/><rect x="395.6" y="389.4" width="4.6" height="4.6" fill="#ff0000"/><rect x="397.3" y="399.1" width="4.6" height="4.6" fill="#ff0000"/><rect x="398.2" y="408.7" width="4.6" height="4.6" fill="#ff0000"/><rect x="399.0" y="399.1" width="4.6" height="4.6" fill="#ff0000"/><rect x="400.7" y="393.4" width="4.6" height="4.6" fill="#ff0000"/><rect x="402.3" y="383.8" width="4.6" height="4.6" fill="#ff0000"/><rect x="403.1" y="408.7" width="4.6" height="4.6" fill="#ff0000"/><rect x="404.7" y="389.4" width="4.6" height="4.6" fill="#ff0000"/><rect x="405.4" y="399.1" width="4.6" height="4.6" fill="#ff0000"/><rect x="406.2" y="408.7" width="4.6" height="4.6" fill="#ff0000"/><rect x="406.9" y="408.7" width="4.6" height="4.6" fill="#ff0000"/><rect x="408.4" y="408.7" width="4.6" height="4.6" fill="#ff0000"/><rect x="409.1" y="408.7" width="4.6" height="4.6" fill="#ff0000"/><rect x="409.8" y="408.7" width="4.6" height="4.6" fill="#ff0000"/><rect x="410.5" y="408.7" width="4.6" height="4.6" fill="#ff0000"/><rect x="411.9" y="389.4" width="4.6" height="4.6" fill="#ff0000"/><rect x="412.6" y="408.7" width="4.6" height="4.6" fill="#ff0000"/><rect x="413.2" y="399.1" width="4.6" height="4.6" fill="#ff0000"/><rect x="413.9" y="408.7" width="4.6" height="4.6" fill="#ff0000"/><rect x="414.6" y="393.4" width="4.6" height="4.6" fill="#ff0000"/><rect x="415.2" y="408.7" width="4.6" height="4.6" fill="#ff0000"/><rect x="415.9" y="399.1" width="4.6" height="4.6" fill="#ff0000"/><rect x="416.5" y="399.1" width="4.6" height="4.6" fill="#ff0000"/><rect x="417.1" y="408.7" width="4.6" height="4.6" fill="#ff0000"/><rect x="417.7" y="399.1" width="4.6" height="4.6" fill="#ff0000"/></g><g><circle cx="147.9" cy="95.6" r="2.2" fill="#00ff00"/><circle cx="168.8" cy="97.9" r="2.2" fill="#00ff00"/><circle cx="184.4" cy="100.9" r="2.2" fill="#00ff00"/><circle cx="196.9" cy="103.1" r="2.2" fill="#00ff00"/><circle cx="207.2" cy="106.4" r="2.2" fill="#00ff00"/><circle cx="216.1" cy="108.9" r="2.2" fill="#00ff00"/><circle cx="223.9" cy="109.7" r="2.2" fill="#00ff00"/><circle cx="230.8" cy="111.9" r="2.2" fill="#00ff00"/><circle cx="237.0" cy="113.2" r="2.2" fill="#00ff00"/><circle cx="242.7" cy="114.5" r="2.2" fill="#00ff00"/><circle cx="247.9" cy="114.8" r="2.2" fill="#00ff00"/><circle cx="252.6" cy="115.5" r="2.2" fill="#00ff00"/><circle cx="257.1" cy="116.3" r="2.2" fill="#00ff00"/><circle cx="261.2" cy="116.7" r="2.2" fill="#00ff00"/><circle cx="265.1" cy="117.1" r="2.2" fill="#00ff00"/><circle cx="268.8" cy="118.0" r="2.2" fill="#00ff00"/><circle cx="272.2" cy="118.7" r="2.2" fill="#00ff00"/><circle cx="275.5" cy="118.8" r="2.2" fill="#00ff00"/><circle cx="278.6" cy="118.5" r="2.2" fill="#00ff00"/><circle cx="281.5" cy="119.0" r="2.2" fill="#00ff00"/><circle cx="284.4" cy="119.5" r="2.2" fill="#00ff00"/><circle cx="287.1" cy="118.5" r="2.2" fill="#00ff00"/><circle cx="289.7" cy="119.6" r="2.2" fill="#00ff00"/><circle cx="292.1" cy="120.2" r="2.2" fill="#00ff00"/><circle cx="294.5" cy="120.2" r="2.2" fill="#00ff00"/><circle cx="296.8" cy="120.3" r="2.2" fill="#00ff00"/><circle cx="299.0" cy="120.0" r="2.2" fill="#00ff00"/><circle cx="301.2" cy="119.7" r="2.2" fill="#00ff00"/><circle cx="303.3" cy="120.9" r="2.2" fill="#00ff00"/><circle cx="305.3" cy="120.3" r="2.2" fill="#00ff00"/><circle cx="307.2" cy="121.2" r="2.2" fill="#00ff00"/><circle cx="309.1" cy="121.6" r="2.2" fill="#00ff00"/><circle cx="310.9" cy="120.8" r="2.2" fill="#00ff00"/><circle cx="312.7" cy="121.0" r="2.2" fill="#00ff00"/><circle cx="314.4" cy="122.1" r="2.2" fill="#00ff00"/><circle cx="316.1" cy="122.0" r="2.2" fill="#00ff00"/><circle cx="317.7" cy="121.4" r="2.2" fill="#00ff00"/><circle cx="319.3" cy="121.6" r="2.2" fill="#00ff00"/><circle cx="320.9" cy="121.9" r="2.2" fill="#00ff00"/><circle cx="322.4" cy="123.4" r="2.2" fill="#00ff00"/><circle cx="323.9" cy="123.6" r="2.2" fill="#00ff00"/><circle cx="325.3" cy="122.8" r="2.2" fill="#00ff00"/><circle cx="326.7" cy="124.2" r="2.2" fill="#00ff00"/><circle cx="328.1" cy="124.8" r="2.2" fill="#00ff00"/><circle cx="329.4" cy="124.6" r="2.2" fill="#00ff00"/><circle cx="330.8" cy="124.5" r="2.2" fill="#00ff00"/><circle cx="332.1" cy="125.1" r="2.2" fill="#00ff00"/><circle cx="333.3" cy="124.8" r="2.2" fill="#00ff00"/><circle cx="334.6" cy="125.0" r="2.2" fill="#00ff00"/><circle cx="335.8" cy="127.0" r="2.2" fill="#00ff00"/><circle cx="337.0" cy="126.8" r="2.2" fill="#00ff00"/><circle cx="338.2" cy="127.0" r="2.2" fill="#00ff00"/><circle cx="339.3" cy="128.1" r="2.2" fill="#00ff00"/><circle cx="340.4" cy="127.7" r="2.2" fill="#00ff00"/><circle cx="341.5" cy="128.8" r="2.2" fill="#00ff00"/><circle cx="342.6" cy="129.1" r="2.2" fill="#00ff00"/><circle cx="343.7" cy="128.4" r="2.2" fill="#00ff00"/><circle cx="344.8" cy="128.9" r="2.2" fill="#00ff00"/><circle cx="345.8" cy="129.3" r="2.2" fill="#00ff00"/><circle cx="346.8" cy="129.6" r="2.2" fill="#00ff00"/><circle cx="347.8" cy="130.5" r="2.2" fill="#00ff00"/><circle cx="348.8" cy="130.3" r="2.2" fill="#00ff00"/><circle cx="349.8" cy="130.9" r="2.2" fill="#00ff00"/><circle cx="350.7" cy="130.8" r="2.2" fill="#00ff00"/><circle cx="351.7" cy="132.4" r="2.2" fill="#00ff00"/><circle cx="352.6" cy="131.9" r="2.2" fill="#00ff00"/><circle cx="353.5" cy="132.4" r="2.2" fill="#00ff00"/><circle cx="354.4" cy="132.9" r="2.2" fill="#00ff00"/><circle cx="355.3" cy="133.7" r="2.2" fill="#00ff00"/><circle cx="356.2" cy="133.2" r="2.2" fill="#00ff00"/><circle cx="357.0" cy="134.3" r="2.2" fill="#00ff00"/><circle cx="357.9" cy="134.0" r="2.2" fill="#00ff00"/><circle cx="358.7" cy="134.3" r="2.2" fill="#00ff00"/><circle cx="359.5" cy="134.5" r="2.2" fill="#00ff00"/><circle cx="360.4" cy="132.2" r="2.2" fill="#00ff00"/><circle cx="361.2" cy="134.7" r="2.2" fill="#00ff00"/><circle cx="362.0" cy="133.6" r="2.2" fill="#00ff00"/><circle cx="362.8" cy="132.9" r="2.2" fill="#00ff00"/><circle cx="363.5" cy="137.2" r="2.2" fill="#00ff00"/><circle cx="364.3" cy="134.2" r="2.2" fill="#00ff00"/><circle cx="365.1" cy="136.0" r="2.2" fill="#00ff00"/><circle cx="365.8" cy="137.5" r="2.2" fill="#00ff00"/><circle cx="366.5" cy="136.8" r="2.2" fill="#00ff00"/><circle cx="367.3" cy="135.8" r="2.2" fill="#00ff00"/><circle cx="368.0" cy="137.0" r="2.2" fill="#00ff00"/><circle cx="368.7" cy="137.4" r="2.2" fill="#00ff00"/><circle cx="369.4" cy="138.8" r="2.2" fill="#00ff00"/><circle cx="370.1" cy="135.5" r="2.2" fill="#00ff00"/><circle cx="370.8" cy="138.1" r="2.2" fill="#00ff00"/><circle cx="371.5" cy="136.7" r="2.2" fill="#00ff00"/><circle cx="372.2" cy="137.1" r="2.2" fill="#00ff00"/><circle cx="372.8" cy="139.9" r="2.2" fill="#00ff00"/><circle cx="373.5" cy="138.7" r="2.2" fill="#00ff00"/><circle cx="374.1" cy="139.3" r="2.2" fill="#00ff00"/><circle cx="374.8" cy="140.6" r="2.2" fill="#00ff00"/><circle cx="375.4" cy="141.6" r="2.2" fill="#00ff00"/><circle cx="376.1" cy="139.4" r="2.2" fill="#00ff00"/><circle cx="376.7" cy="140.6" r="2.2" fill="#00ff00"/><circle cx="377.3" cy="140.3" r="2.2" fill="#00ff00"/><circle cx="377.9" cy="140.7" r="2.2" fill="#00ff00"/><circle cx="378.5" cy="141.9" r="2.2" fill="#00ff00"/><circle cx="379.1" cy="141.0" r="2.2" fill="#00ff00"/><circle cx="379.7" cy="141.8" r="2.2" fill="#00ff00"/><circle cx="380.3" cy="141.8" r="2.2" fill="#00ff00"/><circle cx="380.9" cy="145.1" r="2.2" fill="#00ff00"/><circle cx="381.5" cy="143.9" r="2.2" fill="#00ff00"/><circle cx="382.1" cy="145.4" r="2.2" fill="#00ff00"/><circle cx="382.6" cy="146.2" r="2.2" fill="#00ff00"/><circle cx="383.2" cy="142.2" r="2.2" fill="#00ff00"/><circle cx="383.8" cy="144.5" r="2.2" fill="#00ff00"/><circle cx="384.3" cy="147.3" r="2.2" fill="#00ff00"/><circle cx="384.9" cy="147.0" r="2.2" fill="#00ff00"/><circle cx="385.4" cy="142.8" r="2.2" fill="#00ff00"/><circle cx="385.9" cy="143.1" r="2.2" fill="#00ff00"/><circle cx="386.5" cy="145.5" r="2.2" fill="#00ff00"/><circle cx="387.0" cy="143.5" r="2.2" fill="#00ff00"/><circle cx="387.5" cy="144.9" r="2.2" fill="#00ff00"/><circle cx="388.1" cy="144.1" r="2.2" fill="#00ff00"/><circle cx="388.6" cy="148.2" r="2.2" fill="#00ff00"/><circle cx="389.1" cy="149.3" r="2.2" fill="#00ff00"/><circle cx="389.6" cy="150.3" r="2.2" fill="#00ff00"/><circle cx="390.1" cy="145.8" r="2.2" fill="#00ff00"/><circle cx="390.6" cy="149.7" r="2.2" fill="#00ff00"/><circle cx="391.1" cy="149.6" r="2.2" fill="#00ff00"/><circle cx="391.6" cy="146.5" r="2.2" fill="#00ff00"/><circle cx="392.1" cy="151.5" r="2.2" fill="#00ff00"/><circle cx="392.6" cy="152.3" r="2.2" fill="#00ff00"/><circle cx="393.1" cy="147.8" r="2.2" fill="#00ff00"/><circle cx="393.5" cy="152.8" r="2.2" fill="#00ff00"/><circle cx="394.0" cy="149.5" r="2.2" fill="#00ff00"/><circle cx="394.5" cy="150.3" r="2.2" fill="#00ff00"/><circle cx="394.9" cy="153.8" r="2.2" fill="#00ff00"/><circle cx="395.4" cy="153.0" r="2.2" fill="#00ff00"/><circle cx="395.9" cy="149.0" r="2.2" fill="#00ff00"/><circle cx="396.3" cy="151.0" r="2.2" fill="#00ff00"/><circle cx="396.8" cy="151.8" r="2.2" fill="#00ff00"/><circle cx="397.2" cy="150.9" r="2.2" fill="#00ff00"/><circle cx="397.7" cy="150.3" r="2.2" fill="#00ff00"/><circle cx="398.1" cy="151.4" r="2.2" fill="#00ff00"/><circle cx="398.6" cy="154.3" r="2.2" fill="#00ff00"/><circle cx="399.0" cy="150.1" r="2.2" fill="#00ff00"/><circle cx="399.4" cy="153.8" r="2.2" fill="#00ff00"/><circle cx="399.9" cy="153.4" r="2.2" fill="#00ff00"/><circle cx="400.3" cy="151.0" r="2.2" fill="#00ff00"/><circle cx="400.7" cy="153.4" r="2.2" fill="#00ff00"/><circle cx="401.1" cy="155.6" r="2.2" fill="#00ff00"/><circle cx="401.6" cy="155.3" r="2.2" fill="#00ff00"/><circle cx="402.0" cy="152.8" r="2.2" fill="#00ff00"/><circle cx="402.4" cy="159.1" r="2.2" fill="#00ff00"/><circle cx="402.8" cy="158.3" r="2.2" fill="#00ff00"/><circle cx="403.2" cy="159.9" r="2.2" fill="#00ff00"/><circle cx="403.6" cy="154.9" r="2.2" fill="#00ff00"/><circle cx="404.0" cy="156.4" r="2.2" fill="#00ff00"/><circle cx="404.4" cy="155.4" r="2.2" fill="#00ff00"/><circle cx="404.8" cy="160.7" r="2.2" fill="#00ff00"/><circle cx="405.2" cy="157.9" r="2.2" fill="#00ff00"/><circle cx="405.6" cy="157.5" r="2.2" fill="#00ff00"/><circle cx="406.0" cy="159.9" r="2.2" fill="#00ff00"/><circle cx="406.4" cy="163.5" r="2.2" fill="#00ff00"/><circle cx="406.8" cy="163.4" r="2.2" fill="#00ff00"/><circle cx="407.2" cy="160.3" r="2.2" fill="#00ff00"/><circle cx="407.5" cy="160.0" r="2.2" fill="#00ff00"/><circle cx="407.9" cy="165.4" r="2.2" fill="#00ff00"/><circle cx="408.3" cy="163.6" r="2.2" fill="#00ff00"/><circle cx="408.7" cy="164.9" r="2.2" fill="#00ff00"/><circle cx="409.0" cy="161.4" r="2.2" fill="#00ff00"/><circle cx="409.4" cy="161.6" r="2.2" fill="#00ff00"/><circle cx="409.8" cy="166.0" r="2.2" fill="#00ff00"/><circle cx="410.1" cy="164.6" r="2.2" fill="#00ff00"/><circle cx="410.5" cy="162.7" r="2.2" fill="#00ff00"/><circle cx="410.9" cy="168.5" r="2.2" fill="#00ff00"/><circle cx="411.2" cy="166.8" r="2.2" fill="#00ff00"/><circle cx="411.6" cy="168.2" r="2.2" fill="#00ff00"/><circle cx="411.9" cy="163.8" r="2.2" fill="#00ff00"/><circle cx="412.3" cy="169.0" r="2.2" fill="#00ff00"/><circle cx="412.6" cy="164.2" r="2.2" fill="#00ff00"/><circle cx="413.0" cy="169.5" r="2.2" fill="#00ff00"/><circle cx="413.3" cy="167.1" r="2.2" fill="#00ff00"/><circle cx="413.7" cy="166.6" r="2.2" fill="#00ff00"/><circle cx="414.0" cy="168.2" r="2.2" fill="#00ff00"/><circle cx="414.4" cy="170.8" r="2.2" fill="#00ff00"/><circle cx="414.7" cy="166.8" r="2.2" fill="#00ff00"/><circle cx="415.0" cy="166.2" r="2.2" fill="#00ff00"/><circle cx="415.4" cy="169.0" r="2.2" fill="#00ff00"/><circle cx="415.7" cy="167.4" r="2.2" fill="#00ff00"/><circle cx="416.0" cy="166.9" r="2.2" fill="#00ff00"/><circle cx="416.4" cy="167.5" r="2.2" fill="#00ff00"/><circle cx="416.7" cy="167.1" r="2.2" fill="#00ff00"/><circle cx="417.0" cy="168.5" r="2.2" fill="#00ff00"/><circle cx="417.4" cy="169.5" r="2.2" fill="#00ff00"/><circle cx="417.7" cy="169.9" r="2.2" fill="#00ff00"/><circle cx="418.0" cy="173.2" r="2.2" fill="#00ff00"/><circle cx="418.3" cy="170.7" r="2.2" fill="#00ff00"/><circle cx="418.6" cy="173.0" r="2.2" fill="#00ff00"/><circle cx="419.0" cy="172.5" r="2.2" fill="#00ff00"/><circle cx="419.3" cy="175.4" r="2.2" fill="#00ff00"/><circle cx="419.6" cy="175.2" r="2.2" fill="#00ff00"/><circle cx="419.9" cy="177.9" r="2.2" fill="#00ff00"/><circle cx="147.9" cy="192.2" r="2.2" fill="#00ff00"/><circle cx="168.8" cy="195.5" r="2.2" fill="#00ff00"/><circle cx="184.4" cy="198.4" r="2.2" fill="#00ff00"/><circle cx="196.9" cy="201.1" r="2.2" fill="#00ff00"/><circle cx="207.2" cy="203.8" r="2.2" fill="#00ff00"/><circle cx="216.1" cy="206.3" r="2.2" fill="#00ff00"/><circle cx="223.9" cy="208.7" r="2.2" fill="#00ff00"/><circle cx="230.8" cy="211.6" r="2.2" fill="#00ff00"/><circle cx="237.0" cy="212.9" r="2.2" fill="#00ff00"/><circle cx="242.7" cy="215.2" r="2.2" fill="#00ff00"/><circle cx="247.9" cy="217.2" r="2.2" fill="#00ff00"/><circle cx="252.6" cy="218.9" r="2.2" fill="#00ff00"/><circle cx="257.1" cy="219.6" r="2.2" fill="#00ff00"/><circle cx="261.2" cy="221.4" r="2.2" fill="#00ff00"/><circle cx="265.1" cy="222.3" r="2.2" fill="#00ff00"/><circle cx="268.8" cy="222.9" r="2.2" fill="#00ff00"/><circle cx="272.2" cy="224.5" r="2.2" fill="#00ff00"/><circle cx="275.5" cy="224.9" r="2.2" fill="#00ff00"/><circle cx="278.6" cy="225.6" r="2.2" fill="#00ff00"/><circle cx="281.5" cy="226.2" r="2.2" fill="#00ff00"/><circle cx="284.4" cy="226.5" r="2.2" fill="#00ff00"/><circle cx="287.1" cy="226.9" r="2.2" fill="#00ff00"/><circle cx="289.7" cy="226.8" r="2.2" fill="#00ff00"/><circle cx="292.1" cy="227.5" r="2.2" fill="#00ff00"/><circle cx="294.5" cy="227.9" r="2.2" fill="#00ff00"/><circle cx="296.8" cy="228.4" r="2.2" fill="#00ff00"/><circle cx="299.0" cy="229.4" r="2.2" fill="#00ff00"/><circle cx="301.2" cy="229.7" r="2.2" fill="#00ff00"/><circle cx="303.3" cy="230.4" r="2.2" fill="#00ff00"/><circle cx="305.3" cy="230.6" r="2.2" fill="#00ff00"/><circle cx="307.2" cy="231.3" r="2.2" fill="#00ff00"/><circle cx="309.1" cy="231.6" r="2.2" fill="#00ff00"/><circle cx="310.9" cy="231.9" r="2.2" fill="#00ff00"/><circle cx="312.7" cy="232.7" r="2.2" fill="#00ff00"/><circle cx="314.4" cy="233.2" r="2.2" fill="#00ff00"/><circle cx="316.1" cy="233.1" r="2.2" fill="#00ff00"/><circle cx="317.7" cy="233.8" r="2.2" fill="#00ff00"/><circle cx="319.3" cy="234.2" r="2.2" fill="#00ff00"/><circle cx="320.9" cy="234.3" r="2.2" fill="#00ff00"/><circle cx="322.4" cy="234.8" r="2.2" fill="#00ff00"/><circle cx="323.9" cy="235.1" r="2.2" fill="#00ff00"/><circle cx="325.3" cy="235.5" r="2.2" fill="#00ff00"/><circle cx="326.7" cy="236.0" r="2.2" fill="#00ff00"/><circle cx="328.1" cy="236.6" r="2.2" fill="#00ff00"/><circle cx="329.4" cy="237.0" r="2.2" fill="#00ff00"/><circle cx="330.8" cy="237.2" r="2.2" fill="#00ff00"/><circle cx="332.1" cy="237.6" r="2.2" fill="#00ff00"/><circle cx="333.3" cy="238.3" r="2.2" fill="#00ff00"/><circle cx="334.6" cy="239.1" r="2.2" fill="#00ff00"/><circle cx="335.8" cy="239.4" r="2.2" fill="#00ff00"/><circle cx="337.0" cy="240.1" r="2.2" fill="#00ff00"/><circle cx="338.2" cy="240.6" r="2.2" fill="#00ff00"/><circle cx="339.3" cy="241.6" r="2.2" fill="#00ff00"/><circle cx="340.4" cy="241.9" r="2.2" fill="#00ff00"/><circle cx="341.5" cy="242.1" r="2.2" fill="#00ff00"/><circle cx="342.6" cy="242.6" r="2.2" fill="#00ff00"/><circle cx="343.7" cy="243.3" r="2.2" fill="#00ff00"/><circle cx="344.8" cy="243.8" r="2.2" fill="#00ff00"/><circle cx="345.8" cy="244.3" r="2.2" fill="#00ff00"/><circle cx="346.8" cy="244.5" r="2.2" fill="#00ff00"/><circle cx="347.8" cy="245.0" r="2.2" fill="#00ff00"/><circle cx="348.8" cy="245.7" r="2.2" fill="#00ff00"/><circle cx="349.8" cy="246.0" r="2.2" fill="#00ff00"/><circle cx="350.7" cy="246.4" r="2.2" fill="#00ff00"/><circle cx="351.7" cy="246.9" r="2.2" fill="#00ff00"/><circle cx="352.6" cy="247.7" r="2.2" fill="#00ff00"/><circle cx="353.5" cy="247.8" r="2.2" fill="#00ff00"/><circle cx="354.4" cy="248.5" r="2.2" fill="#00ff00"/><circle cx="355.3" cy="248.8" r="2.2" fill="#00ff00"/><circle cx="356.2" cy="249.4" r="2.2" fill="#00ff00"/><circle cx="357.0" cy="250.2" r="2.2" fill="#00ff00"/><circle cx="357.9" cy="250.8" r="2.2" fill="#00ff00"/><circle cx="358.7" cy="251.0" r="2.2" fill="#00ff00"/><circle cx="359.5" cy="251.5" r="2.2" fill="#00ff00"/><circle cx="360.4" cy="252.4" r="2.2" fill="#00ff00"/><circle cx="361.2" cy="252.7" r="2.2" fill="#00ff00"/><circle cx="362.0" cy="253.2" r="2.2" fill="#00ff00"/><circle cx="362.8" cy="254.3" r="2.2" fill="#00ff00"/><circle cx="363.5" cy="254.5" r="2.2" fill="#00ff00"/><circle cx="364.3" cy="255.3" r="2.2" fill="#00ff00"/><circle cx="365.1" cy="255.5" r="2.2" fill="#00ff00"/><circle cx="365.8" cy="256.3" r="2.2" fill="#00ff00"/><circle cx="366.5" cy="256.5" r="2.2" fill="#00ff00"/><circle cx="367.3" cy="256.7" r="2.2" fill="#00ff00"/><circle cx="368.0" cy="257.1" r="2.2" fill="#00ff00"/><circle cx="368.7" cy="257.8" r="2.2" fill="#00ff00"/><circle cx="369.4" cy="258.3" r="2.2" fill="#00ff00"/><circle cx="370.1" cy="258.9" r="2.2" fill="#00ff00"/><circle cx="370.8" cy="258.9" r="2.2" fill="#00ff00"/><circle cx="371.5" cy="259.6" r="2.2" fill="#00ff00"/><circle cx="372.2" cy="259.9" r="2.2" fill="#00ff00"/><circle cx="372.8" cy="260.4" r="2.2" fill="#00ff00"/><circle cx="373.5" cy="260.6" r="2.2" fill="#00ff00"/><circle cx="374.1" cy="261.2" r="2.2" fill="#00ff00"/><circle cx="374.8" cy="261.7" r="2.2" fill="#00ff00"/><circle cx="375.4" cy="262.4" r="2.7" fill="#00ff00"/><circle cx="376.1" cy="262.4" r="2.7" fill="#00ff00"/><circle cx="376.7" cy="263.0" r="2.7" fill="#00ff00"/><circle cx="377.3" cy="263.7" r="2.7" fill="#00ff00"/><circle cx="377.9" cy="264.2" r="2.7" fill="#00ff00"/><circle cx="378.5" cy="264.2" r="2.7" fill="#00ff00"/><circle cx="379.1" cy="264.6" r="2.7" fill="#00ff00"/><circle cx="379.7" cy="265.5" r="2.7" fill="#00ff00"/><circle cx="380.3" cy="266.6" r="2.7" fill="#00ff00"/><circle cx="380.9" cy="266.1" r="2.7" fill="#00ff00"/><circle cx="381.5" cy="265.7" r="2.7" fill="#00ff00"/><circle cx="382.1" cy="268.0" r="2.7" fill="#00ff00"/><circle cx="382.6" cy="267.4" r="2.7" fill="#00ff00"/><circle cx="383.2" cy="268.9" r="2.7" fill="#00ff00"/><circle cx="383.8" cy="268.8" r="2.7" fill="#00ff00"/><circle cx="384.3" cy="269.7" r="2.7" fill="#00ff00"/><circle cx="384.9" cy="268.9" r="2.7" fill="#00ff00"/><circle cx="385.4" cy="270.6" r="2.7" fill="#00ff00"/><circle cx="385.9" cy="270.0" r="2.7" fill="#00ff00"/><circle cx="386.5" cy="270.9" r="2.7" fill="#00ff00"/><circle cx="387.0" cy="272.3" r="2.7" fill="#00ff00"/><circle cx="387.5" cy="272.7" r="2.7" fill="#00ff00"/><circle cx="388.1" cy="272.0" r="2.7" fill="#00ff00"/><circle cx="388.6" cy="272.5" r="2.7" fill="#00ff00"/><circle cx="389.1" cy="273.4" r="2.7" fill="#00ff00"/><circle cx="389.6" cy="274.1" r="2.7" fill="#00ff00"/><circle cx="390.1" cy="274.3" r="2.7" fill="#00ff00"/><circle cx="390.6" cy="274.3" r="2.7" fill="#00ff00"/><circle cx="391.1" cy="275.0" r="2.7" fill="#00ff00"/><circle cx="391.6" cy="276.4" r="2.7" fill="#00ff00"/><circle cx="392.1" cy="277.3" r="2.7" fill="#00ff00"/><circle cx="392.6" cy="276.0" r="2.7" fill="#00ff00"/><circle cx="393.1" cy="277.5" r="2.7" fill="#00ff00"/><circle cx="393.5" cy="278.4" r="2.7" fill="#00ff00"/><circle cx="394.0" cy="277.4" r="2.7" fill="#00ff00"/><circle cx="394.5" cy="279.5" r="2.7" fill="#00ff00"/><circle cx="394.9" cy="278.5" r="2.7" fill="#00ff00"/><circle cx="395.4" cy="279.9" r="2.7" fill="#00ff00"/><circle cx="395.9" cy="280.2" r="2.7" fill="#00ff00"/><circle cx="396.3" cy="280.8" r="2.7" fill="#00ff00"/><circle cx="396.8" cy="280.6" r="2.7" fill="#00ff00"/><circle cx="397.2" cy="281.3" r="2.7" fill="#00ff00"/><circle cx="397.7" cy="282.1" r="2.7" fill="#00ff00"/><circle cx="398.1" cy="282.2" r="2.7" fill="#00ff00"/><circle cx="398.6" cy="283.1" r="2.7" fill="#00ff00"/><circle cx="399.0" cy="283.1" r="2.7" fill="#00ff00"/><circle cx="399.4" cy="283.5" r="2.7" fill="#00ff00"/><circle cx="399.9" cy="283.1" r="2.7" fill="#00ff00"/><circle cx="400.3" cy="284.8" r="2.7" fill="#00ff00"/><circle cx="400.7" cy="284.9" r="2.7" fill="#00ff00"/><circle cx="401.1" cy="284.8" r="2.7" fill="#00ff00"/><circle cx="401.6" cy="286.3" r="2.7" fill="#00ff00"/><circle cx="402.0" cy="286.8" r="2.7" fill="#00ff00"/><circle cx="402.4" cy="286.6" r="2.7" fill="#00ff00"/><circle cx="402.8" cy="286.4" r="2.7" fill="#00ff00"/><circle cx="403.2" cy="287.5" r="2.7" fill="#00ff00"/><circle cx="403.6" cy="287.1" r="2.7" fill="#00ff00"/><circle cx="404.0" cy="287.6" r="2.7" fill="#00ff00"/><circle cx="404.4" cy="288.6" r="2.7" fill="#00ff00"/><circle cx="404.8" cy="288.4" r="2.7" fill="#00ff00"/><circle cx="405.2" cy="289.5" r="2.7" fill="#00ff00"/><circle cx="405.6" cy="290.0" r="2.7" fill="#00ff00"/><circle cx="406.0" cy="289.5" r="2.7" fill="#00ff00"/><circle cx="406.4" cy="291.1" r="2.7" fill="#00ff00"/><circle cx="406.8" cy="290.4" r="2.7" fill="#00ff00"/><circle cx="407.2" cy="292.1" r="2.7" fill="#00ff00"/><circle cx="407.5" cy="292.6" r="2.7" fill="#00ff00"/><circle cx="407.9" cy="292.4" r="2.7" fill="#00ff00"/><circle cx="408.3" cy="291.9" r="2.7" fill="#00ff00"/><circle cx="408.7" cy="293.2" r="2.7" fill="#00ff00"/><circle cx="409.0" cy="293.3" r="2.7" fill="#00ff00"/><circle cx="409.4" cy="294.9" r="2.7" fill="#00ff00"/><circle cx="409.8" cy="293.7" r="2.7" fill="#00ff00"/><circle cx="410.1" cy="295.5" r="2.7" fill="#00ff00"/><circle cx="410.5" cy="296.2" r="2.7" fill="#00ff00"/><circle cx="410.9" cy="296.0" r="2.7" fill="#00ff00"/><circle cx="411.2" cy="296.6" r="2.7" fill="#00ff00"/><circle cx="411.6" cy="295.8" r="2.7" fill="#00ff00"/><circle cx="411.9" cy="297.7" r="2.7" fill="#00ff00"/><circle cx="412.3" cy="297.2" r="2.7" fill="#00ff00"/><circle cx="412.6" cy="298.5" r="2.7" fill="#00ff00"/><circle cx="413.0" cy="298.8" r="2.7" fill="#00ff00"/><circle cx="413.3" cy="297.8" r="2.7" fill="#00ff00"/><circle cx="413.7" cy="299.4" r="2.7" fill="#00ff00"/><circle cx="414.0" cy="300.1" r="2.7" fill="#00ff00"/><circle cx="414.4" cy="298.8" r="2.7" fill="#00ff00"/><circle cx="414.7" cy="299.8" r="2.7" fill="#00ff00"/><circle cx="415.0" cy="301.1" r="2.7" fill="#00ff00"/><circle cx="415.4" cy="300.3" r="2.7" fill="#00ff00"/><circle cx="415.7" cy="302.3" r="2.7" fill="#00ff00"/><circle cx="416.0" cy="301.5" r="2.7" fill="#00ff00"/><circle cx="416.4" cy="303.2" r="2.7" fill="#00ff00"/><circle cx="416.7" cy="302.3" r="2.7" fill="#00ff00"/><circle cx="417.0" cy="303.6" r="2.7" fill="#00ff00"/><circle cx="417.4" cy="305.0" r="2.7" fill="#00ff00"/><circle cx="417.7" cy="304.1" r="2.7" fill="#00ff00"/><circle cx="418.0" cy="304.8" r="2.7" fill="#00ff00"/><circle cx="418.3" cy="305.8" r="2.7" fill="#00ff00"/><circle cx="418.6" cy="306.0" r="2.7" fill="#00ff00"/><circle cx="419.0" cy="306.0" r="2.7" fill="#00ff00"/><circle cx="419.3" cy="306.8" r="2.7" fill="#00ff00"/><circle cx="419.6" cy="307.3" r="2.7" fill="#00ff00"/><circle cx="419.9" cy="309.4" r="2.7" fill="#00ff00"/><circle cx="147.9" cy="289.8" r="2.2" fill="#00ff00"/><circle cx="168.8" cy="293.7" r="2.2" fill="#00ff00"/><circle cx="184.4" cy="296.9" r="2.2" fill="#00ff00"/><circle cx="196.9" cy="299.7" r="2.2" fill="#00ff00"/><circle cx="207.2" cy="302.6" r="2.2" fill="#00ff00"/><circle cx="216.1" cy="305.3" r="2.2" fill="#00ff00"/><circle cx="223.9" cy="308.8" r="2.2" fill="#00ff00"/><circle cx="230.8" cy="311.3" r="2.2" fill="#00ff00"/><circle cx="237.0" cy="314.6" r="2.2" fill="#00ff00"/><circle cx="242.7" cy="316.9" r="2.2" fill="#00ff00"/><circle cx="247.9" cy="318.7" r="2.2" fill="#00ff00"/><circle cx="252.6" cy="322.1" r="2.2" fill="#00ff00"/><circle cx="257.1" cy="323.3" r="2.2" fill="#00ff00"/><circle cx="261.2" cy="324.8" r="2.2" fill="#00ff00"/><circle cx="265.1" cy="326.2" r="2.2" fill="#00ff00"/><circle cx="268.8" cy="327.6" r="2.2" fill="#00ff00"/><circle cx="272.2" cy="328.7" r="2.2" fill="#00ff00"/><circle cx="275.5" cy="329.7" r="2.2" fill="#00ff00"/><circle cx="278.6" cy="331.0" r="2.2" fill="#00ff00"/><circle cx="281.5" cy="331.9" r="2.2" fill="#00ff00"/><circle cx="284.4" cy="332.5" r="2.2" fill="#00ff00"/><circle cx="287.1" cy="333.2" r="2.2" fill="#00ff00"/><circle cx="289.7" cy="334.1" r="2.2" fill="#00ff00"/><circle cx="292.1" cy="334.8" r="2.2" fill="#00ff00"/><circle cx="294.5" cy="335.1" r="2.2" fill="#00ff00"/><circle cx="296.8" cy="336.0" r="2.2" fill="#00ff00"/><circle cx="299.0" cy="336.3" r="2.2" fill="#00ff00"/><circle cx="301.2" cy="337.0" r="2.2" fill="#00ff00"/><circle cx="303.3" cy="337.2" r="2.2" fill="#00ff00"/><circle cx="305.3" cy="337.6" r="2.2" fill="#00ff00"/><circle cx="307.2" cy="338.6" r="2.2" fill="#00ff00"/><circle cx="309.1" cy="339.0" r="2.2" fill="#00ff00"/><circle cx="310.9" cy="339.5" r="2.2" fill="#00ff00"/><circle cx="312.7" cy="339.5" r="2.2" fill="#00ff00"/><circle cx="314.4" cy="339.9" r="2.2" fill="#00ff00"/><circle cx="316.1" cy="340.4" r="2.2" fill="#00ff00"/><circle cx="317.7" cy="340.9" r="2.2" fill="#00ff00"/><circle cx="319.3" cy="341.4" r="2.2" fill="#00ff00"/><circle cx="320.9" cy="342.0" r="2.2" fill="#00ff00"/><circle cx="322.4" cy="342.3" r="2.2" fill="#00ff00"/><circle cx="323.9" cy="343.1" r="2.2" fill="#00ff00"/><circle cx="325.3" cy="344.0" r="2.2" fill="#00ff00"/><circle cx="326.7" cy="344.4" r="2.2" fill="#00ff00"/><circle cx="328.1" cy="345.7" r="2.2" fill="#00ff00"/><circle cx="329.4" cy="346.4" r="2.2" fill="#00ff00"/><circle cx="330.8" cy="347.4" r="2.2" fill="#00ff00"/><circle cx="332.1" cy="348.1" r="2.2" fill="#00ff00"/><circle cx="333.3" cy="349.1" r="2.2" fill="#00ff00"/><circle cx="334.6" cy="350.2" r="2.2" fill="#00ff00"/><circle cx="335.8" cy="350.9" r="2.2" fill="#00ff00"/><circle cx="337.0" cy="351.6" r="2.2" fill="#00ff00"/><circle cx="338.2" cy="352.9" r="2.2" fill="#00ff00"/><circle cx="339.3" cy="353.7" r="2.2" fill="#00ff00"/><circle cx="340.4" cy="354.2" r="2.2" fill="#00ff00"/><circle cx="341.5" cy="354.9" r="2.2" fill="#00ff00"/><circle cx="342.6" cy="356.2" r="2.2" fill="#00ff00"/><circle cx="343.7" cy="356.9" r="2.2" fill="#00ff00"/><circle cx="344.8" cy="357.3" r="2.2" fill="#00ff00"/><circle cx="345.8" cy="358.2" r="2.2" fill="#00ff00"/><circle cx="346.8" cy="358.9" r="2.2" fill="#00ff00"/><circle cx="347.8" cy="360.1" r="2.2" fill="#00ff00"/><circle cx="348.8" cy="360.5" r="2.2" fill="#00ff00"/><circle cx="349.8" cy="361.6" r="2.2" fill="#00ff00"/><circle cx="350.7" cy="362.3" r="2.2" fill="#00ff00"/><circle cx="351.7" cy="362.6" r="2.2" fill="#00ff00"/><circle cx="352.6" cy="363.7" r="2.2" fill="#00ff00"/><circle cx="353.5" cy="364.3" r="2.2" fill="#00ff00"/><circle cx="354.4" cy="365.2" r="2.2" fill="#00ff00"/><circle cx="355.3" cy="366.0" r="2.2" fill="#00ff00"/><circle cx="356.2" cy="366.4" r="2.2" fill="#00ff00"/><circle cx="357.0" cy="367.0" r="2.2" fill="#00ff00"/><circle cx="357.9" cy="368.4" r="2.2" fill="#00ff00"/><circle cx="358.7" cy="368.9" r="2.2" fill="#00ff00"/><circle cx="359.5" cy="370.0" r="2.2" fill="#00ff00"/><circle cx="360.4" cy="370.7" r="2.2" fill="#00ff00"/><circle cx="361.2" cy="371.6" r="2.2" fill="#00ff00"/><circle cx="362.0" cy="372.5" r="2.2" fill="#00ff00"/><circle cx="362.8" cy="373.2" r="2.2" fill="#00ff00"/><circle cx="363.5" cy="374.0" r="2.2" fill="#00ff00"/><circle cx="364.3" cy="374.6" r="2.2" fill="#00ff00"/><circle cx="365.1" cy="375.8" r="2.2" fill="#00ff00"/><circle cx="365.8" cy="376.5" r="2.2" fill="#00ff00"/><circle cx="366.5" cy="377.4" r="2.2" fill="#00ff00"/><circle cx="367.3" cy="378.5" r="2.2" fill="#00ff00"/><circle cx="368.0" cy="378.9" r="2.2" fill="#00ff00"/><circle cx="368.7" cy="380.1" r="2.2" fill="#00ff00"/><circle cx="369.4" cy="380.5" r="2.2" fill="#00ff00"/><circle cx="370.1" cy="381.6" r="2.2" fill="#00ff00"/><circle cx="370.8" cy="382.4" r="2.2" fill="#00ff00"/><circle cx="371.5" cy="382.8" r="2.2" fill="#00ff00"/><circle cx="372.2" cy="383.6" r="2.2" fill="#00ff00"/><circle cx="372.8" cy="384.6" r="2.2" fill="#00ff00"/><circle cx="373.5" cy="385.1" r="2.2" fill="#00ff00"/><circle cx="374.1" cy="385.7" r="2.2" fill="#00ff00"/><circle cx="374.8" cy="386.2" r="2.2" fill="#00ff00"/><circle cx="375.4" cy="386.7" r="2.2" fill="#00ff00"/><circle cx="376.1" cy="387.6" r="2.2" fill="#00ff00"/><circle cx="376.7" cy="388.2" r="2.2" fill="#00ff00"/><circle cx="377.3" cy="388.7" r="2.2" fill="#00ff00"/><circle cx="377.9" cy="389.4" r="2.2" fill="#00ff00"/><circle cx="378.5" cy="389.9" r="2.2" fill="#00ff00"/><circle cx="379.1" cy="390.9" r="2.2" fill="#00ff00"/><circle cx="379.7" cy="391.4" r="2.2" fill="#00ff00"/><circle cx="380.3" cy="391.3" r="2.2" fill="#00ff00"/><circle cx="380.9" cy="391.8" r="2.2" fill="#00ff00"/><circle cx="381.5" cy="393.0" r="2.2" fill="#00ff00"/><circle cx="382.1" cy="393.4" r="2.2" fill="#00ff00"/><circle cx="382.6" cy="395.1" r="2.2" fill="#00ff00"/><circle cx="383.2" cy="394.2" r="2.2" fill="#00ff00"/><circle cx="383.8" cy="394.5" r="2.2" fill="#00ff00"/><circle cx="384.3" cy="396.4" r="2.2" fill="#00ff00"/><circle cx="384.9" cy="395.0" r="2.2" fill="#00ff00"/><circle cx="385.4" cy="396.5" r="2.2" fill="#00ff00"/><circle cx="385.9" cy="396.3" r="2.2" fill="#00ff00"/><circle cx="386.5" cy="397.7" r="2.2" fill="#00ff00"/><circle cx="387.0" cy="397.4" r="2.2" fill="#00ff00"/><circle cx="387.5" cy="398.1" r="2.2" fill="#00ff00"/><circle cx="388.1" cy="396.9" r="2.2" fill="#00ff00"/><circle cx="388.6" cy="398.3" r="2.2" fill="#00ff00"/><circle cx="389.1" cy="398.3" r="2.2" fill="#00ff00"/><circle cx="389.6" cy="398.1" r="2.2" fill="#00ff00"/><circle cx="390.1" cy="399.0" r="2.2" fill="#00ff00"/><circle cx="390.6" cy="399.4" r="2.2" fill="#00ff00"/><circle cx="391.1" cy="397.8" r="2.2" fill="#00ff00"/><circle cx="391.6" cy="398.5" r="2.2" fill="#00ff00"/><circle cx="392.1" cy="398.9" r="2.2" fill="#00ff00"/><circle cx="392.6" cy="398.8" r="2.2" fill="#00ff00"/><circle cx="393.1" cy="398.7" r="2.2" fill="#00ff00"/><circle cx="393.5" cy="399.6" r="2.2" fill="#00ff00"/><circle cx="394.0" cy="399.7" r="2.2" fill="#00ff00"/><circle cx="394.5" cy="401.3" r="2.2" fill="#00ff00"/><circle cx="394.9" cy="401.2" r="2.2" fill="#00ff00"/><circle cx="395.4" cy="400.8" r="2.2" fill="#00ff00"/><circle cx="395.9" cy="401.7" r="2.2" fill="#00ff00"/><circle cx="396.3" cy="402.6" r="2.2" fill="#00ff00"/><circle cx="396.8" cy="402.8" r="2.2" fill="#00ff00"/><circle cx="397.2" cy="402.8" r="2.2" fill="#00ff00"/><circle cx="397.7" cy="403.1" r="2.2" fill="#00ff00"/><circle cx="398.1" cy="403.5" r="2.2" fill="#00ff00"/><circle cx="398.6" cy="406.3" r="2.2" fill="#00ff00"/><circle cx="399.0" cy="406.3" r="2.2" fill="#00ff00"/><circle cx="399.4" cy="405.2" r="2.2" fill="#00ff00"/><circle cx="399.9" cy="407.2" r="2.2" fill="#00ff00"/><circle cx="400.3" cy="408.9" r="2.2" fill="#00ff00"/><circle cx="400.7" cy="407.9" r="2.2" fill="#00ff00"/><circle cx="401.1" cy="406.8" r="2.2" fill="#00ff00"/><circle cx="401.6" cy="408.7" r="2.2" fill="#00ff00"/><circle cx="402.0" cy="409.0" r="2.2" fill="#00ff00"/><circle cx="402.4" cy="408.6" r="2.2" fill="#00ff00"/><circle cx="402.8" cy="410.3" r="2.2" fill="#00ff00"/><circle cx="403.2" cy="408.9" r="2.2" fill="#00ff00"/><circle cx="403.6" cy="412.7" r="2.2" fill="#00ff00"/><circle cx="404.0" cy="412.2" r="2.2" fill="#00ff00"/><circle cx="404.4" cy="412.7" r="2.2" fill="#00ff00"/><circle cx="404.8" cy="414.3" r="2.2" fill="#00ff00"/><circle cx="405.2" cy="413.8" r="2.2" fill="#00ff00"/><circle cx="405.6" cy="412.9" r="2.2" fill="#00ff00"/><circle cx="406.0" cy="413.4" r="2.2" fill="#00ff00"/><circle cx="406.4" cy="413.5" r="2.2" fill="#00ff00"/><circle cx="406.8" cy="413.6" r="2.2" fill="#00ff00"/><circle cx="407.2" cy="416.8" r="2.2" fill="#00ff00"/><circle cx="407.5" cy="417.5" r="2.2" fill="#00ff00"/><circle cx="407.9" cy="416.0" r="2.2" fill="#00ff00"/><circle cx="408.3" cy="416.1" r="2.2" fill="#00ff00"/><circle cx="408.7" cy="418.1" r="2.2" fill="#00ff00"/><circle cx="409.0" cy="419.3" r="2.2" fill="#00ff00"/><circle cx="409.4" cy="420.0" r="2.2" fill="#00ff00"/><circle cx="409.8" cy="417.6" r="2.2" fill="#00ff00"/><circle cx="410.1" cy="420.1" r="2.2" fill="#00ff00"/><circle cx="410.5" cy="420.6" r="2.2" fill="#00ff00"/><circle cx="410.9" cy="420.5" r="2.2" fill="#00ff00"/><circle cx="411.2" cy="419.3" r="2.2" fill="#00ff00"/><circle cx="411.6" cy="419.0" r="2.2" fill="#00ff00"/><circle cx="411.9" cy="421.6" r="2.2" fill="#00ff00"/><circle cx="412.3" cy="420.0" r="2.2" fill="#00ff00"/><circle cx="412.6" cy="420.5" r="2.2" fill="#00ff00"/><circle cx="413.0" cy="421.4" r="2.2" fill="#00ff00"/><circle cx="413.3" cy="421.1" r="2.2" fill="#00ff00"/><circle cx="413.7" cy="423.1" r="2.2" fill="#00ff00"/><circle cx="414.0" cy="421.3" r="2.2" fill="#00ff00"/><circle cx="414.4" cy="420.9" r="2.2" fill="#00ff00"/><circle cx="414.7" cy="423.2" r="2.2" fill="#00ff00"/><circle cx="415.0" cy="423.7" r="2.2" fill="#00ff00"/><circle cx="415.4" cy="424.8" r="2.2" fill="#00ff00"/><circle cx="415.7" cy="424.7" r="2.2" fill="#00ff00"/><circle cx="416.0" cy="425.8" r="2.2" fill="#00ff00"/><circle cx="416.4" cy="426.3" r="2.2" fill="#00ff00"/><circle cx="416.7" cy="425.1" r="2.2" fill="#00ff00"/><circle cx="417.0" cy="425.5" r="2.2" fill="#00ff00"/><circle cx="417.4" cy="424.8" r="2.2" fill="#00ff00"/><circle cx="417.7" cy="425.8" r="2.2" fill="#00ff00"/><circle cx="418.0" cy="427.4" r="2.2" fill="#00ff00"/><circle cx="418.3" cy="426.3" r="2.2" fill="#00ff00"/><circle cx="418.6" cy="429.2" r="2.2" fill="#00ff00"/><circle cx="419.0" cy="429.9" r="2.2" fill="#00ff00"/><circle cx="419.3" cy="435.8" r="2.2" fill="#00ff00"/><circle cx="419.6" cy="441.7" r="2.2" fill="#00ff00"/><circle cx="419.9" cy="438.5" r="2.2" fill="#00ff00"/></g><g><circle cx="93.0" cy="87.4" r="2.35" fill="#0000ff"/><circle cx="95.0" cy="89.4" r="2.35" fill="#0000ff"/><circle cx="97.0" cy="86.4" r="2.35" fill="#0000ff"/><circle cx="100.0" cy="84.7" r="2.35" fill="#0000ff"/><circle cx="102.0" cy="88.4" r="2.35" fill="#0000ff"/><circle cx="105.0" cy="87.4" r="2.35" fill="#0000ff"/><circle cx="107.0" cy="86.4" r="2.35" fill="#0000ff"/><circle cx="109.8" cy="93.0" r="2.35" fill="#0000ff"/><circle cx="111.8" cy="84.3" r="2.35" fill="#0000ff"/><circle cx="114.2" cy="86.4" r="2.35" fill="#0000ff"/><circle cx="116.2" cy="88.0" r="2.35" fill="#0000ff"/><circle cx="119.2" cy="90.0" r="2.35" fill="#0000ff"/><circle cx="122.3" cy="89.4" r="2.35" fill="#0000ff"/><circle cx="125.3" cy="88.8" r="2.35" fill="#0000ff"/><circle cx="127.3" cy="88.4" r="2.35" fill="#0000ff"/><circle cx="130.3" cy="90.4" r="2.35" fill="#0000ff"/><circle cx="133.3" cy="89.4" r="2.35" fill="#0000ff"/><circle cx="134.9" cy="86.5" r="2.35" fill="#0000ff"/><circle cx="136.4" cy="86.0" r="2.35" fill="#0000ff"/><circle cx="137.9" cy="88.3" r="2.35" fill="#0000ff"/><circle cx="139.4" cy="89.4" r="2.35" fill="#0000ff"/><circle cx="140.4" cy="90.5" r="2.35" fill="#0000ff"/><circle cx="141.4" cy="91.4" r="2.35" fill="#0000ff"/><circle cx="142.7" cy="92.2" r="2.35" fill="#0000ff"/><circle cx="144.0" cy="94.4" r="2.35" fill="#0000ff"/><circle cx="145.2" cy="91.1" r="2.35" fill="#0000ff"/><circle cx="146.5" cy="88.0" r="2.35" fill="#0000ff"/><circle cx="148.0" cy="89.2" r="2.35" fill="#0000ff"/><circle cx="149.5" cy="88.4" r="2.35" fill="#0000ff"/><circle cx="150.0" cy="89.0" r="2.35" fill="#0000ff"/><circle cx="150.5" cy="91.4" r="2.35" fill="#0000ff"/><circle cx="152.0" cy="92.9" r="2.35" fill="#0000ff"/><circle cx="153.5" cy="92.8" r="2.35" fill="#0000ff"/><circle cx="154.8" cy="94.4" r="2.35" fill="#0000ff"/><circle cx="156.1" cy="96.4" r="2.35" fill="#0000ff"/><circle cx="157.3" cy="92.9" r="2.35" fill="#0000ff"/><circle cx="158.5" cy="89.4" r="2.35" fill="#0000ff"/><circle cx="160.1" cy="91.2" r="2.35" fill="#0000ff"/><circle cx="161.6" cy="91.4" r="2.35" fill="#0000ff"/><circle cx="163.1" cy="91.4" r="2.35" fill="#0000ff"/><circle cx="164.6" cy="92.0" r="2.35" fill="#0000ff"/><circle cx="166.1" cy="92.2" r="2.35" fill="#0000ff"/><circle cx="167.6" cy="92.4" r="2.35" fill="#0000ff"/><circle cx="169.1" cy="92.7" r="2.35" fill="#0000ff"/><circle cx="170.6" cy="92.0" r="2.35" fill="#0000ff"/><circle cx="172.1" cy="94.9" r="2.35" fill="#0000ff"/><circle cx="173.7" cy="95.4" r="2.35" fill="#0000ff"/><circle cx="175.2" cy="95.5" r="2.35" fill="#0000ff"/><circle cx="176.7" cy="96.4" r="2.35" fill="#0000ff"/><circle cx="178.2" cy="96.7" r="2.35" fill="#0000ff"/><circle cx="179.7" cy="95.4" r="2.35" fill="#0000ff"/><circle cx="181.2" cy="96.4" r="2.35" fill="#0000ff"/><circle cx="182.7" cy="95.7" r="2.35" fill="#0000ff"/><circle cx="184.2" cy="96.5" r="2.35" fill="#0000ff"/><circle cx="185.8" cy="96.7" r="2.35" fill="#0000ff"/><circle cx="187.3" cy="98.0" r="2.35" fill="#0000ff"/><circle cx="188.8" cy="99.8" r="2.35" fill="#0000ff"/><circle cx="190.5" cy="97.9" r="2.35" fill="#0000ff"/><circle cx="192.2" cy="96.8" r="2.35" fill="#0000ff"/><circle cx="194.2" cy="97.4" r="2.35" fill="#0000ff"/><circle cx="196.2" cy="100.2" r="2.35" fill="#0000ff"/><circle cx="197.7" cy="99.1" r="2.35" fill="#0000ff"/><circle cx="199.2" cy="99.8" r="2.35" fill="#0000ff"/><circle cx="200.7" cy="99.8" r="2.35" fill="#0000ff"/><circle cx="202.2" cy="101.8" r="2.35" fill="#0000ff"/><circle cx="203.8" cy="102.9" r="2.35" fill="#0000ff"/><circle cx="205.3" cy="102.8" r="2.35" fill="#0000ff"/><circle cx="206.8" cy="104.0" r="2.35" fill="#0000ff"/><circle cx="208.2" cy="106.4" r="2.35" fill="#0000ff"/><circle cx="209.8" cy="105.3" r="2.35" fill="#0000ff"/><circle cx="211.3" cy="105.9" r="2.35" fill="#0000ff"/><circle cx="212.8" cy="104.6" r="2.35" fill="#0000ff"/><circle cx="214.3" cy="105.3" r="2.35" fill="#0000ff"/><circle cx="215.8" cy="106.9" r="2.35" fill="#0000ff"/><circle cx="217.3" cy="106.9" r="2.35" fill="#0000ff"/><circle cx="218.8" cy="107.3" r="2.35" fill="#0000ff"/><circle cx="220.3" cy="105.9" r="2.35" fill="#0000ff"/><circle cx="221.8" cy="107.0" r="2.35" fill="#0000ff"/><circle cx="223.3" cy="107.3" r="2.35" fill="#0000ff"/><circle cx="224.9" cy="108.1" r="2.35" fill="#0000ff"/><circle cx="226.4" cy="109.9" r="2.35" fill="#0000ff"/><circle cx="227.9" cy="110.3" r="2.35" fill="#0000ff"/><circle cx="229.4" cy="111.9" r="2.35" fill="#0000ff"/><circle cx="230.9" cy="110.9" r="2.35" fill="#0000ff"/><circle cx="232.4" cy="110.9" r="2.35" fill="#0000ff"/><circle cx="233.9" cy="109.8" r="2.35" fill="#0000ff"/><circle cx="235.4" cy="108.9" r="2.35" fill="#0000ff"/><circle cx="236.9" cy="108.9" r="2.35" fill="#0000ff"/><circle cx="238.5" cy="110.5" r="2.35" fill="#0000ff"/><circle cx="240.0" cy="109.6" r="2.35" fill="#0000ff"/><circle cx="241.5" cy="108.9" r="2.35" fill="#0000ff"/><circle cx="243.0" cy="110.5" r="2.35" fill="#0000ff"/><circle cx="244.5" cy="113.3" r="2.35" fill="#0000ff"/><circle cx="246.0" cy="115.0" r="2.35" fill="#0000ff"/><circle cx="247.5" cy="114.5" r="2.35" fill="#0000ff"/><circle cx="249.1" cy="114.8" r="2.35" fill="#0000ff"/><circle cx="250.6" cy="112.9" r="2.35" fill="#0000ff"/><circle cx="252.1" cy="113.5" r="2.35" fill="#0000ff"/><circle cx="253.6" cy="113.9" r="2.35" fill="#0000ff"/><circle cx="255.1" cy="114.3" r="2.35" fill="#0000ff"/><circle cx="256.6" cy="115.9" r="2.35" fill="#0000ff"/><circle cx="258.6" cy="116.5" r="2.35" fill="#0000ff"/><circle cx="260.6" cy="114.9" r="2.35" fill="#0000ff"/><circle cx="262.6" cy="115.2" r="2.35" fill="#0000ff"/><circle cx="264.7" cy="116.5" r="2.35" fill="#0000ff"/><circle cx="266.7" cy="116.9" r="2.35" fill="#0000ff"/><circle cx="268.7" cy="118.0" r="2.35" fill="#0000ff"/><circle cx="270.7" cy="116.3" r="2.35" fill="#0000ff"/><circle cx="272.7" cy="117.0" r="2.35" fill="#0000ff"/><circle cx="274.8" cy="117.7" r="2.35" fill="#0000ff"/><circle cx="276.8" cy="119.0" r="2.35" fill="#0000ff"/><circle cx="278.2" cy="118.2" r="2.35" fill="#0000ff"/><circle cx="279.7" cy="117.3" r="2.35" fill="#0000ff"/><circle cx="281.9" cy="116.1" r="2.35" fill="#0000ff"/><circle cx="284.1" cy="117.7" r="2.35" fill="#0000ff"/><circle cx="286.3" cy="115.6" r="2.35" fill="#0000ff"/><circle cx="288.5" cy="117.0" r="2.35" fill="#0000ff"/><circle cx="290.7" cy="116.5" r="2.35" fill="#0000ff"/><circle cx="292.9" cy="118.2" r="2.35" fill="#0000ff"/><circle cx="295.1" cy="116.9" r="2.35" fill="#0000ff"/><circle cx="297.3" cy="117.2" r="2.35" fill="#0000ff"/><circle cx="299.5" cy="118.9" r="2.35" fill="#0000ff"/><circle cx="301.7" cy="119.0" r="2.35" fill="#0000ff"/><circle cx="303.9" cy="121.1" r="2.35" fill="#0000ff"/><circle cx="306.1" cy="121.1" r="2.35" fill="#0000ff"/><circle cx="308.3" cy="122.2" r="2.35" fill="#0000ff"/><circle cx="310.5" cy="121.7" r="2.35" fill="#0000ff"/><circle cx="312.7" cy="121.9" r="2.35" fill="#0000ff"/><circle cx="314.9" cy="122.8" r="2.35" fill="#0000ff"/><circle cx="317.1" cy="120.8" r="2.35" fill="#0000ff"/><circle cx="319.3" cy="120.9" r="2.35" fill="#0000ff"/><circle cx="321.5" cy="124.4" r="2.35" fill="#0000ff"/><circle cx="323.7" cy="121.2" r="2.35" fill="#0000ff"/><circle cx="325.9" cy="124.6" r="2.35" fill="#0000ff"/><circle cx="328.1" cy="125.0" r="2.35" fill="#0000ff"/><circle cx="330.3" cy="123.0" r="2.35" fill="#0000ff"/><circle cx="332.5" cy="127.2" r="2.35" fill="#0000ff"/><circle cx="334.7" cy="128.0" r="2.35" fill="#0000ff"/><circle cx="336.9" cy="127.5" r="2.35" fill="#0000ff"/><circle cx="339.1" cy="128.7" r="2.35" fill="#0000ff"/><circle cx="341.3" cy="130.0" r="2.35" fill="#0000ff"/><circle cx="343.5" cy="127.8" r="2.35" fill="#0000ff"/><circle cx="345.7" cy="130.6" r="2.35" fill="#0000ff"/><circle cx="347.9" cy="131.6" r="2.35" fill="#0000ff"/><circle cx="350.1" cy="134.2" r="2.35" fill="#0000ff"/><circle cx="352.3" cy="135.0" r="2.35" fill="#0000ff"/><circle cx="354.5" cy="135.8" r="2.35" fill="#0000ff"/><circle cx="356.7" cy="135.3" r="2.35" fill="#0000ff"/><circle cx="358.9" cy="137.8" r="2.35" fill="#0000ff"/><circle cx="361.1" cy="138.2" r="2.35" fill="#0000ff"/><circle cx="363.3" cy="139.9" r="2.35" fill="#0000ff"/><circle cx="365.5" cy="139.5" r="2.35" fill="#0000ff"/><circle cx="367.7" cy="140.5" r="2.35" fill="#0000ff"/><circle cx="369.9" cy="142.7" r="2.35" fill="#0000ff"/><circle cx="372.1" cy="145.1" r="2.35" fill="#0000ff"/><circle cx="374.3" cy="145.1" r="2.35" fill="#0000ff"/><circle cx="376.5" cy="149.7" r="2.35" fill="#0000ff"/><circle cx="378.7" cy="150.0" r="2.35" fill="#0000ff"/><circle cx="380.9" cy="152.3" r="2.35" fill="#0000ff"/><circle cx="383.1" cy="154.6" r="2.35" fill="#0000ff"/><circle cx="385.3" cy="157.4" r="2.35" fill="#0000ff"/><circle cx="387.5" cy="158.7" r="2.35" fill="#0000ff"/><circle cx="389.7" cy="158.8" r="2.35" fill="#0000ff"/><circle cx="384.5" cy="158.5" r="2.35" fill="#0000ff"/><circle cx="387.0" cy="160.5" r="2.35" fill="#0000ff"/><circle cx="389.5" cy="163.0" r="2.35" fill="#0000ff"/><circle cx="391.5" cy="165.5" r="2.35" fill="#0000ff"/><circle cx="396.5" cy="171.7" r="2.35" fill="#0000ff"/><circle cx="398.0" cy="170.5" r="2.35" fill="#0000ff"/><circle cx="392.8" cy="177.3" r="2.35" fill="#0000ff"/><circle cx="402.8" cy="177.3" r="2.35" fill="#0000ff"/><circle cx="394.7" cy="183.5" r="2.35" fill="#0000ff"/><circle cx="399.7" cy="184.1" r="2.35" fill="#0000ff"/><circle cx="404.6" cy="181.6" r="2.35" fill="#0000ff"/><circle cx="407.8" cy="181.0" r="2.35" fill="#0000ff"/><circle cx="400.9" cy="188.5" r="2.35" fill="#0000ff"/><circle cx="406.0" cy="195.3" r="2.35" fill="#0000ff"/><circle cx="412.8" cy="197.0" r="2.35" fill="#0000ff"/><circle cx="414.5" cy="206.9" r="2.35" fill="#0000ff"/><circle cx="92.5" cy="184.0" r="2.55" fill="#0000ff"/><circle cx="93.9" cy="184.2" r="2.55" fill="#0000ff"/><circle cx="95.3" cy="183.5" r="2.55" fill="#0000ff"/><circle cx="96.7" cy="184.1" r="2.55" fill="#0000ff"/><circle cx="98.1" cy="183.4" r="2.55" fill="#0000ff"/><circle cx="99.5" cy="183.8" r="2.55" fill="#0000ff"/><circle cx="100.9" cy="183.9" r="2.55" fill="#0000ff"/><circle cx="102.3" cy="183.6" r="2.55" fill="#0000ff"/><circle cx="103.7" cy="184.1" r="2.55" fill="#0000ff"/><circle cx="105.1" cy="183.8" r="2.55" fill="#0000ff"/><circle cx="106.5" cy="183.8" r="2.55" fill="#0000ff"/><circle cx="107.9" cy="184.2" r="2.55" fill="#0000ff"/><circle cx="109.3" cy="183.4" r="2.55" fill="#0000ff"/><circle cx="110.7" cy="184.4" r="2.55" fill="#0000ff"/><circle cx="112.1" cy="184.1" r="2.55" fill="#0000ff"/><circle cx="113.5" cy="183.9" r="2.55" fill="#0000ff"/><circle cx="114.9" cy="184.4" r="2.55" fill="#0000ff"/><circle cx="116.3" cy="183.9" r="2.55" fill="#0000ff"/><circle cx="117.7" cy="184.7" r="2.55" fill="#0000ff"/><circle cx="119.1" cy="184.3" r="2.55" fill="#0000ff"/><circle cx="120.5" cy="184.2" r="2.55" fill="#0000ff"/><circle cx="121.9" cy="184.7" r="2.55" fill="#0000ff"/><circle cx="123.3" cy="184.4" r="2.55" fill="#0000ff"/><circle cx="124.7" cy="184.3" r="2.55" fill="#0000ff"/><circle cx="126.1" cy="184.9" r="2.55" fill="#0000ff"/><circle cx="127.5" cy="184.3" r="2.55" fill="#0000ff"/><circle cx="128.9" cy="185.2" r="2.55" fill="#0000ff"/><circle cx="130.3" cy="184.7" r="2.55" fill="#0000ff"/><circle cx="131.7" cy="185.2" r="2.55" fill="#0000ff"/><circle cx="133.1" cy="185.6" r="2.55" fill="#0000ff"/><circle cx="134.5" cy="185.3" r="2.55" fill="#0000ff"/><circle cx="135.9" cy="185.5" r="2.55" fill="#0000ff"/><circle cx="137.3" cy="185.2" r="2.55" fill="#0000ff"/><circle cx="138.7" cy="185.0" r="2.55" fill="#0000ff"/><circle cx="140.1" cy="185.1" r="2.55" fill="#0000ff"/><circle cx="141.5" cy="185.3" r="2.55" fill="#0000ff"/><circle cx="142.9" cy="185.9" r="2.55" fill="#0000ff"/><circle cx="144.3" cy="185.9" r="2.55" fill="#0000ff"/><circle cx="145.7" cy="186.1" r="2.55" fill="#0000ff"/><circle cx="147.1" cy="186.6" r="2.55" fill="#0000ff"/><circle cx="148.5" cy="186.0" r="2.55" fill="#0000ff"/><circle cx="149.9" cy="186.3" r="2.55" fill="#0000ff"/><circle cx="151.3" cy="186.9" r="2.55" fill="#0000ff"/><circle cx="152.7" cy="186.5" r="2.55" fill="#0000ff"/><circle cx="154.1" cy="186.7" r="2.55" fill="#0000ff"/><circle cx="155.5" cy="187.3" r="2.55" fill="#0000ff"/><circle cx="156.9" cy="187.2" r="2.55" fill="#0000ff"/><circle cx="158.3" cy="187.7" r="2.55" fill="#0000ff"/><circle cx="159.7" cy="187.9" r="2.55" fill="#0000ff"/><circle cx="161.1" cy="188.5" r="2.55" fill="#0000ff"/><circle cx="162.5" cy="188.7" r="2.55" fill="#0000ff"/><circle cx="163.9" cy="188.6" r="2.55" fill="#0000ff"/><circle cx="165.3" cy="189.3" r="2.55" fill="#0000ff"/><circle cx="166.7" cy="189.4" r="2.55" fill="#0000ff"/><circle cx="168.1" cy="189.3" r="2.55" fill="#0000ff"/><circle cx="169.5" cy="190.4" r="2.55" fill="#0000ff"/><circle cx="170.9" cy="190.0" r="2.55" fill="#0000ff"/><circle cx="172.3" cy="190.2" r="2.55" fill="#0000ff"/><circle cx="173.7" cy="190.4" r="2.55" fill="#0000ff"/><circle cx="175.1" cy="191.2" r="2.55" fill="#0000ff"/><circle cx="176.5" cy="191.8" r="2.55" fill="#0000ff"/><circle cx="177.9" cy="192.0" r="2.55" fill="#0000ff"/><circle cx="179.3" cy="191.9" r="2.55" fill="#0000ff"/><circle cx="180.7" cy="192.1" r="2.55" fill="#0000ff"/><circle cx="182.1" cy="192.1" r="2.55" fill="#0000ff"/><circle cx="183.5" cy="193.1" r="2.55" fill="#0000ff"/><circle cx="184.9" cy="193.3" r="2.55" fill="#0000ff"/><circle cx="186.3" cy="193.5" r="2.55" fill="#0000ff"/><circle cx="187.7" cy="194.1" r="2.55" fill="#0000ff"/><circle cx="189.1" cy="194.2" r="2.55" fill="#0000ff"/><circle cx="190.5" cy="195.0" r="2.55" fill="#0000ff"/><circle cx="191.9" cy="195.2" r="2.55" fill="#0000ff"/><circle cx="193.3" cy="195.1" r="2.55" fill="#0000ff"/><circle cx="194.7" cy="196.1" r="2.55" fill="#0000ff"/><circle cx="196.1" cy="195.6" r="2.55" fill="#0000ff"/><circle cx="197.5" cy="196.5" r="2.55" fill="#0000ff"/><circle cx="198.9" cy="196.8" r="2.55" fill="#0000ff"/><circle cx="200.3" cy="197.0" r="2.55" fill="#0000ff"/><circle cx="201.7" cy="197.3" r="2.55" fill="#0000ff"/><circle cx="203.1" cy="198.4" r="2.55" fill="#0000ff"/><circle cx="204.5" cy="198.0" r="2.55" fill="#0000ff"/><circle cx="205.9" cy="199.0" r="2.55" fill="#0000ff"/><circle cx="207.3" cy="199.8" r="2.55" fill="#0000ff"/><circle cx="208.7" cy="199.5" r="2.55" fill="#0000ff"/><circle cx="210.1" cy="200.0" r="2.55" fill="#0000ff"/><circle cx="211.5" cy="200.8" r="2.55" fill="#0000ff"/><circle cx="212.9" cy="201.1" r="2.55" fill="#0000ff"/><circle cx="214.3" cy="201.7" r="2.55" fill="#0000ff"/><circle cx="215.7" cy="202.3" r="2.55" fill="#0000ff"/><circle cx="217.1" cy="202.1" r="2.55" fill="#0000ff"/><circle cx="218.5" cy="202.7" r="2.55" fill="#0000ff"/><circle cx="219.9" cy="203.1" r="2.55" fill="#0000ff"/><circle cx="221.3" cy="203.2" r="2.55" fill="#0000ff"/><circle cx="222.7" cy="204.5" r="2.55" fill="#0000ff"/><circle cx="224.1" cy="204.8" r="2.55" fill="#0000ff"/><circle cx="225.5" cy="205.2" r="2.55" fill="#0000ff"/><circle cx="226.9" cy="205.0" r="2.55" fill="#0000ff"/><circle cx="228.3" cy="206.2" r="2.55" fill="#0000ff"/><circle cx="229.7" cy="206.6" r="2.55" fill="#0000ff"/><circle cx="231.1" cy="206.7" r="2.55" fill="#0000ff"/><circle cx="232.5" cy="207.4" r="2.55" fill="#0000ff"/><circle cx="233.9" cy="207.6" r="2.55" fill="#0000ff"/><circle cx="235.3" cy="207.7" r="2.55" fill="#0000ff"/><circle cx="236.7" cy="208.0" r="2.55" fill="#0000ff"/><circle cx="238.1" cy="208.5" r="2.55" fill="#0000ff"/><circle cx="239.5" cy="208.7" r="2.55" fill="#0000ff"/><circle cx="240.9" cy="209.4" r="2.55" fill="#0000ff"/><circle cx="242.3" cy="210.1" r="2.55" fill="#0000ff"/><circle cx="243.7" cy="210.4" r="2.55" fill="#0000ff"/><circle cx="245.1" cy="210.8" r="2.55" fill="#0000ff"/><circle cx="246.5" cy="211.0" r="2.55" fill="#0000ff"/><circle cx="247.9" cy="210.9" r="2.55" fill="#0000ff"/><circle cx="249.3" cy="211.4" r="2.55" fill="#0000ff"/><circle cx="250.7" cy="211.6" r="2.35" fill="#0000ff"/><circle cx="252.1" cy="212.2" r="2.35" fill="#0000ff"/><circle cx="253.5" cy="212.2" r="2.35" fill="#0000ff"/><circle cx="254.9" cy="212.2" r="2.35" fill="#0000ff"/><circle cx="256.3" cy="212.9" r="2.35" fill="#0000ff"/><circle cx="257.7" cy="213.5" r="2.35" fill="#0000ff"/><circle cx="259.1" cy="213.0" r="2.35" fill="#0000ff"/><circle cx="260.5" cy="214.0" r="2.35" fill="#0000ff"/><circle cx="261.9" cy="213.4" r="2.35" fill="#0000ff"/><circle cx="263.3" cy="214.0" r="2.35" fill="#0000ff"/><circle cx="264.7" cy="214.2" r="2.35" fill="#0000ff"/><circle cx="266.1" cy="215.0" r="2.35" fill="#0000ff"/><circle cx="267.5" cy="215.5" r="2.35" fill="#0000ff"/><circle cx="268.9" cy="215.6" r="2.35" fill="#0000ff"/><circle cx="270.3" cy="215.4" r="2.35" fill="#0000ff"/><circle cx="271.7" cy="216.1" r="2.35" fill="#0000ff"/><circle cx="273.1" cy="215.8" r="2.35" fill="#0000ff"/><circle cx="274.5" cy="215.9" r="2.35" fill="#0000ff"/><circle cx="275.9" cy="216.7" r="2.35" fill="#0000ff"/><circle cx="277.3" cy="216.6" r="2.35" fill="#0000ff"/><circle cx="278.7" cy="216.9" r="2.35" fill="#0000ff"/><circle cx="280.1" cy="217.0" r="2.35" fill="#0000ff"/><circle cx="281.5" cy="217.5" r="2.35" fill="#0000ff"/><circle cx="282.9" cy="217.2" r="2.35" fill="#0000ff"/><circle cx="284.3" cy="217.7" r="2.35" fill="#0000ff"/><circle cx="285.7" cy="217.8" r="2.35" fill="#0000ff"/><circle cx="287.1" cy="218.2" r="2.35" fill="#0000ff"/><circle cx="288.5" cy="218.0" r="2.35" fill="#0000ff"/><circle cx="289.9" cy="218.5" r="2.35" fill="#0000ff"/><circle cx="291.3" cy="218.7" r="2.35" fill="#0000ff"/><circle cx="292.7" cy="218.7" r="2.35" fill="#0000ff"/><circle cx="294.1" cy="218.9" r="2.35" fill="#0000ff"/><circle cx="295.5" cy="219.6" r="2.35" fill="#0000ff"/><circle cx="296.9" cy="219.4" r="2.35" fill="#0000ff"/><circle cx="298.3" cy="220.5" r="2.35" fill="#0000ff"/><circle cx="299.7" cy="220.1" r="2.35" fill="#0000ff"/><circle cx="301.1" cy="220.3" r="2.35" fill="#0000ff"/><circle cx="302.5" cy="220.7" r="2.35" fill="#0000ff"/><circle cx="303.9" cy="221.8" r="2.35" fill="#0000ff"/><circle cx="305.3" cy="221.6" r="2.35" fill="#0000ff"/><circle cx="306.7" cy="221.7" r="2.35" fill="#0000ff"/><circle cx="308.1" cy="222.0" r="2.35" fill="#0000ff"/><circle cx="309.5" cy="222.4" r="2.35" fill="#0000ff"/><circle cx="310.9" cy="223.5" r="2.35" fill="#0000ff"/><circle cx="312.3" cy="223.8" r="2.35" fill="#0000ff"/><circle cx="313.7" cy="224.3" r="2.35" fill="#0000ff"/><circle cx="315.1" cy="224.8" r="2.35" fill="#0000ff"/><circle cx="316.5" cy="224.6" r="2.35" fill="#0000ff"/><circle cx="317.9" cy="225.6" r="2.35" fill="#0000ff"/><circle cx="319.3" cy="225.9" r="2.35" fill="#0000ff"/><circle cx="320.7" cy="226.9" r="2.35" fill="#0000ff"/><circle cx="322.1" cy="227.4" r="2.35" fill="#0000ff"/><circle cx="323.5" cy="228.0" r="2.35" fill="#0000ff"/><circle cx="324.9" cy="227.8" r="2.35" fill="#0000ff"/><circle cx="326.3" cy="229.1" r="2.35" fill="#0000ff"/><circle cx="327.7" cy="229.7" r="2.35" fill="#0000ff"/><circle cx="329.1" cy="230.4" r="2.35" fill="#0000ff"/><circle cx="330.5" cy="230.1" r="2.35" fill="#0000ff"/><circle cx="331.9" cy="230.8" r="2.35" fill="#0000ff"/><circle cx="333.3" cy="231.3" r="2.35" fill="#0000ff"/><circle cx="334.7" cy="231.9" r="2.35" fill="#0000ff"/><circle cx="336.1" cy="233.3" r="2.35" fill="#0000ff"/><circle cx="337.5" cy="233.9" r="2.35" fill="#0000ff"/><circle cx="338.9" cy="234.4" r="2.35" fill="#0000ff"/><circle cx="340.3" cy="235.3" r="2.35" fill="#0000ff"/><circle cx="341.7" cy="235.7" r="2.35" fill="#0000ff"/><circle cx="343.1" cy="236.0" r="2.35" fill="#0000ff"/><circle cx="344.5" cy="236.5" r="2.35" fill="#0000ff"/><circle cx="345.9" cy="237.2" r="2.35" fill="#0000ff"/><circle cx="347.3" cy="238.7" r="2.35" fill="#0000ff"/><circle cx="348.7" cy="239.0" r="2.35" fill="#0000ff"/><circle cx="350.1" cy="240.1" r="2.35" fill="#0000ff"/><circle cx="351.5" cy="241.2" r="2.35" fill="#0000ff"/><circle cx="352.9" cy="241.9" r="2.35" fill="#0000ff"/><circle cx="354.3" cy="243.2" r="2.35" fill="#0000ff"/><circle cx="355.7" cy="244.4" r="2.35" fill="#0000ff"/><circle cx="357.1" cy="245.9" r="2.35" fill="#0000ff"/><circle cx="358.5" cy="246.7" r="2.35" fill="#0000ff"/><circle cx="359.9" cy="247.8" r="2.35" fill="#0000ff"/><circle cx="361.3" cy="249.7" r="2.35" fill="#0000ff"/><circle cx="362.7" cy="250.5" r="2.35" fill="#0000ff"/><circle cx="364.1" cy="252.2" r="2.35" fill="#0000ff"/><circle cx="365.5" cy="253.5" r="2.35" fill="#0000ff"/><circle cx="366.9" cy="254.6" r="2.35" fill="#0000ff"/><circle cx="368.3" cy="256.7" r="2.35" fill="#0000ff"/><circle cx="369.7" cy="258.4" r="2.35" fill="#0000ff"/><circle cx="371.1" cy="260.5" r="2.35" fill="#0000ff"/><circle cx="372.5" cy="261.7" r="2.35" fill="#0000ff"/><circle cx="373.9" cy="263.7" r="2.35" fill="#0000ff"/><circle cx="375.3" cy="265.1" r="2.35" fill="#0000ff"/><circle cx="376.7" cy="266.3" r="2.35" fill="#0000ff"/><circle cx="378.1" cy="268.5" r="2.35" fill="#0000ff"/><circle cx="379.5" cy="269.2" r="2.35" fill="#0000ff"/><circle cx="380.9" cy="271.5" r="2.35" fill="#0000ff"/><circle cx="382.3" cy="272.3" r="2.35" fill="#0000ff"/><circle cx="383.7" cy="273.4" r="2.35" fill="#0000ff"/><circle cx="385.1" cy="274.8" r="2.35" fill="#0000ff"/><circle cx="386.5" cy="276.7" r="2.35" fill="#0000ff"/><circle cx="387.9" cy="278.7" r="2.35" fill="#0000ff"/><circle cx="389.3" cy="280.1" r="2.35" fill="#0000ff"/><circle cx="390.7" cy="283.6" r="2.35" fill="#0000ff"/><circle cx="392.6" cy="287.8" r="2.35" fill="#0000ff"/><circle cx="394.2" cy="293.7" r="2.35" fill="#0000ff"/><circle cx="397.4" cy="297.4" r="2.35" fill="#0000ff"/><circle cx="399.5" cy="295.3" r="2.35" fill="#0000ff"/><circle cx="401.6" cy="302.7" r="2.35" fill="#0000ff"/><circle cx="404.3" cy="308.1" r="2.35" fill="#0000ff"/><circle cx="405.9" cy="311.3" r="2.35" fill="#0000ff"/><circle cx="407.5" cy="319.3" r="2.35" fill="#0000ff"/><circle cx="409.3" cy="327.3" r="2.35" fill="#0000ff"/><circle cx="413.0" cy="331.1" r="2.35" fill="#0000ff"/><circle cx="416.1" cy="336.7" r="2.35" fill="#0000ff"/><circle cx="419.9" cy="337.3" r="2.35" fill="#0000ff"/><circle cx="417.4" cy="338.5" r="2.35" fill="#0000ff"/><circle cx="92.5" cy="280.1" r="2.55" fill="#0000ff"/><circle cx="93.9" cy="280.5" r="2.55" fill="#0000ff"/><circle cx="95.3" cy="280.3" r="2.55" fill="#0000ff"/><circle cx="96.7" cy="280.8" r="2.55" fill="#0000ff"/><circle cx="98.1" cy="280.1" r="2.55" fill="#0000ff"/><circle cx="99.5" cy="280.9" r="2.55" fill="#0000ff"/><circle cx="100.9" cy="280.9" r="2.55" fill="#0000ff"/><circle cx="102.3" cy="280.8" r="2.55" fill="#0000ff"/><circle cx="103.7" cy="280.4" r="2.55" fill="#0000ff"/><circle cx="105.1" cy="280.3" r="2.55" fill="#0000ff"/><circle cx="106.5" cy="280.7" r="2.55" fill="#0000ff"/><circle cx="107.9" cy="280.6" r="2.55" fill="#0000ff"/><circle cx="109.3" cy="280.6" r="2.55" fill="#0000ff"/><circle cx="110.7" cy="280.5" r="2.55" fill="#0000ff"/><circle cx="112.1" cy="280.7" r="2.55" fill="#0000ff"/><circle cx="113.5" cy="281.0" r="2.55" fill="#0000ff"/><circle cx="114.9" cy="281.2" r="2.55" fill="#0000ff"/><circle cx="116.3" cy="281.4" r="2.55" fill="#0000ff"/><circle cx="117.7" cy="280.7" r="2.55" fill="#0000ff"/><circle cx="119.1" cy="280.9" r="2.55" fill="#0000ff"/><circle cx="120.5" cy="281.1" r="2.55" fill="#0000ff"/><circle cx="121.9" cy="281.4" r="2.55" fill="#0000ff"/><circle cx="123.3" cy="281.2" r="2.55" fill="#0000ff"/><circle cx="124.7" cy="281.2" r="2.55" fill="#0000ff"/><circle cx="126.1" cy="281.2" r="2.55" fill="#0000ff"/><circle cx="127.5" cy="281.6" r="2.55" fill="#0000ff"/><circle cx="128.9" cy="281.8" r="2.55" fill="#0000ff"/><circle cx="130.3" cy="282.5" r="2.55" fill="#0000ff"/><circle cx="131.7" cy="282.6" r="2.55" fill="#0000ff"/><circle cx="133.1" cy="282.7" r="2.55" fill="#0000ff"/><circle cx="134.5" cy="283.0" r="2.55" fill="#0000ff"/><circle cx="135.9" cy="283.2" r="2.55" fill="#0000ff"/><circle cx="137.3" cy="283.0" r="2.55" fill="#0000ff"/><circle cx="138.7" cy="283.4" r="2.55" fill="#0000ff"/><circle cx="140.1" cy="282.8" r="2.55" fill="#0000ff"/><circle cx="141.5" cy="283.6" r="2.55" fill="#0000ff"/><circle cx="142.9" cy="283.8" r="2.55" fill="#0000ff"/><circle cx="144.3" cy="283.7" r="2.55" fill="#0000ff"/><circle cx="145.7" cy="284.1" r="2.55" fill="#0000ff"/><circle cx="147.1" cy="284.7" r="2.55" fill="#0000ff"/><circle cx="148.5" cy="284.5" r="2.55" fill="#0000ff"/><circle cx="149.9" cy="284.9" r="2.55" fill="#0000ff"/><circle cx="151.3" cy="284.7" r="2.55" fill="#0000ff"/><circle cx="152.7" cy="285.0" r="2.55" fill="#0000ff"/><circle cx="154.1" cy="285.8" r="2.55" fill="#0000ff"/><circle cx="155.5" cy="285.1" r="2.55" fill="#0000ff"/><circle cx="156.9" cy="285.5" r="2.55" fill="#0000ff"/><circle cx="158.3" cy="286.3" r="2.55" fill="#0000ff"/><circle cx="159.7" cy="286.3" r="2.55" fill="#0000ff"/><circle cx="161.1" cy="286.2" r="2.55" fill="#0000ff"/><circle cx="162.5" cy="287.0" r="2.55" fill="#0000ff"/><circle cx="163.9" cy="287.0" r="2.55" fill="#0000ff"/><circle cx="165.3" cy="287.4" r="2.55" fill="#0000ff"/><circle cx="166.7" cy="287.5" r="2.55" fill="#0000ff"/><circle cx="168.1" cy="287.9" r="2.55" fill="#0000ff"/><circle cx="169.5" cy="288.2" r="2.55" fill="#0000ff"/><circle cx="170.9" cy="288.4" r="2.55" fill="#0000ff"/><circle cx="172.3" cy="288.4" r="2.55" fill="#0000ff"/><circle cx="173.7" cy="288.8" r="2.55" fill="#0000ff"/><circle cx="175.1" cy="289.8" r="2.55" fill="#0000ff"/><circle cx="176.5" cy="289.8" r="2.55" fill="#0000ff"/><circle cx="177.9" cy="289.7" r="2.55" fill="#0000ff"/><circle cx="179.3" cy="290.8" r="2.55" fill="#0000ff"/><circle cx="180.7" cy="290.5" r="2.55" fill="#0000ff"/><circle cx="182.1" cy="290.7" r="2.55" fill="#0000ff"/><circle cx="183.5" cy="291.5" r="2.55" fill="#0000ff"/><circle cx="184.9" cy="291.5" r="2.55" fill="#0000ff"/><circle cx="186.3" cy="292.1" r="2.55" fill="#0000ff"/><circle cx="187.7" cy="292.5" r="2.55" fill="#0000ff"/><circle cx="189.1" cy="292.5" r="2.55" fill="#0000ff"/><circle cx="190.5" cy="293.1" r="2.55" fill="#0000ff"/><circle cx="191.9" cy="293.0" r="2.55" fill="#0000ff"/><circle cx="193.3" cy="293.7" r="2.55" fill="#0000ff"/><circle cx="194.7" cy="294.0" r="2.55" fill="#0000ff"/><circle cx="196.1" cy="293.8" r="2.55" fill="#0000ff"/><circle cx="197.5" cy="294.5" r="2.55" fill="#0000ff"/><circle cx="198.9" cy="294.5" r="2.55" fill="#0000ff"/><circle cx="200.3" cy="295.2" r="2.55" fill="#0000ff"/><circle cx="201.7" cy="296.0" r="2.55" fill="#0000ff"/><circle cx="203.1" cy="296.1" r="2.55" fill="#0000ff"/><circle cx="204.5" cy="296.6" r="2.55" fill="#0000ff"/><circle cx="205.9" cy="297.0" r="2.55" fill="#0000ff"/><circle cx="207.3" cy="296.7" r="2.55" fill="#0000ff"/><circle cx="208.7" cy="298.0" r="2.55" fill="#0000ff"/><circle cx="210.1" cy="298.1" r="2.55" fill="#0000ff"/><circle cx="211.5" cy="297.9" r="2.55" fill="#0000ff"/><circle cx="212.9" cy="299.0" r="2.55" fill="#0000ff"/><circle cx="214.3" cy="298.9" r="2.55" fill="#0000ff"/><circle cx="215.7" cy="299.1" r="2.55" fill="#0000ff"/><circle cx="217.1" cy="300.3" r="2.55" fill="#0000ff"/><circle cx="218.5" cy="300.3" r="2.55" fill="#0000ff"/><circle cx="219.9" cy="300.9" r="2.55" fill="#0000ff"/><circle cx="221.3" cy="300.7" r="2.55" fill="#0000ff"/><circle cx="222.7" cy="301.8" r="2.55" fill="#0000ff"/><circle cx="224.1" cy="301.5" r="2.55" fill="#0000ff"/><circle cx="225.5" cy="302.1" r="2.55" fill="#0000ff"/><circle cx="226.9" cy="302.7" r="2.55" fill="#0000ff"/><circle cx="228.3" cy="302.8" r="2.55" fill="#0000ff"/><circle cx="229.7" cy="303.9" r="2.55" fill="#0000ff"/><circle cx="231.1" cy="304.0" r="2.55" fill="#0000ff"/><circle cx="232.5" cy="304.6" r="2.55" fill="#0000ff"/><circle cx="233.9" cy="305.5" r="2.55" fill="#0000ff"/><circle cx="235.3" cy="305.7" r="2.55" fill="#0000ff"/><circle cx="236.7" cy="306.6" r="2.55" fill="#0000ff"/><circle cx="238.1" cy="306.9" r="2.55" fill="#0000ff"/><circle cx="239.5" cy="307.6" r="2.55" fill="#0000ff"/><circle cx="240.9" cy="307.7" r="2.55" fill="#0000ff"/><circle cx="242.3" cy="308.5" r="2.55" fill="#0000ff"/><circle cx="243.7" cy="308.8" r="2.55" fill="#0000ff"/><circle cx="245.1" cy="308.5" r="2.55" fill="#0000ff"/><circle cx="246.5" cy="309.5" r="2.55" fill="#0000ff"/><circle cx="247.9" cy="309.5" r="2.55" fill="#0000ff"/><circle cx="249.3" cy="310.3" r="2.55" fill="#0000ff"/><circle cx="250.7" cy="310.6" r="2.35" fill="#0000ff"/><circle cx="252.1" cy="311.1" r="2.35" fill="#0000ff"/><circle cx="253.5" cy="310.7" r="2.35" fill="#0000ff"/><circle cx="254.9" cy="311.4" r="2.35" fill="#0000ff"/><circle cx="256.3" cy="312.1" r="2.35" fill="#0000ff"/><circle cx="257.7" cy="312.7" r="2.35" fill="#0000ff"/><circle cx="259.1" cy="312.9" r="2.35" fill="#0000ff"/><circle cx="260.5" cy="312.6" r="2.35" fill="#0000ff"/><circle cx="261.9" cy="313.6" r="2.35" fill="#0000ff"/><circle cx="263.3" cy="313.5" r="2.35" fill="#0000ff"/><circle cx="264.7" cy="314.4" r="2.35" fill="#0000ff"/><circle cx="266.1" cy="315.0" r="2.35" fill="#0000ff"/><circle cx="267.5" cy="314.8" r="2.35" fill="#0000ff"/><circle cx="268.9" cy="316.0" r="2.35" fill="#0000ff"/><circle cx="270.3" cy="316.2" r="2.35" fill="#0000ff"/><circle cx="271.7" cy="316.3" r="2.35" fill="#0000ff"/><circle cx="273.1" cy="316.7" r="2.35" fill="#0000ff"/><circle cx="274.5" cy="317.2" r="2.35" fill="#0000ff"/><circle cx="275.9" cy="317.7" r="2.35" fill="#0000ff"/><circle cx="277.3" cy="316.9" r="2.35" fill="#0000ff"/><circle cx="278.7" cy="316.0" r="2.35" fill="#0000ff"/><circle cx="280.1" cy="315.9" r="2.35" fill="#0000ff"/><circle cx="281.5" cy="316.2" r="2.35" fill="#0000ff"/><circle cx="282.9" cy="317.2" r="2.35" fill="#0000ff"/><circle cx="284.3" cy="316.8" r="2.35" fill="#0000ff"/><circle cx="285.7" cy="317.5" r="2.35" fill="#0000ff"/><circle cx="287.1" cy="317.6" r="2.35" fill="#0000ff"/><circle cx="288.5" cy="318.4" r="2.35" fill="#0000ff"/><circle cx="289.9" cy="318.5" r="2.35" fill="#0000ff"/><circle cx="291.3" cy="318.7" r="2.35" fill="#0000ff"/><circle cx="292.7" cy="319.9" r="2.35" fill="#0000ff"/><circle cx="294.1" cy="320.0" r="2.35" fill="#0000ff"/><circle cx="295.5" cy="320.7" r="2.35" fill="#0000ff"/><circle cx="296.9" cy="321.3" r="2.35" fill="#0000ff"/><circle cx="298.3" cy="322.0" r="2.35" fill="#0000ff"/><circle cx="299.7" cy="321.6" r="2.35" fill="#0000ff"/><circle cx="301.1" cy="322.4" r="2.35" fill="#0000ff"/><circle cx="302.5" cy="322.8" r="2.35" fill="#0000ff"/><circle cx="303.9" cy="323.8" r="2.35" fill="#0000ff"/><circle cx="305.3" cy="324.8" r="2.35" fill="#0000ff"/><circle cx="306.7" cy="325.3" r="2.35" fill="#0000ff"/><circle cx="308.1" cy="325.2" r="2.35" fill="#0000ff"/><circle cx="309.5" cy="326.0" r="2.35" fill="#0000ff"/><circle cx="310.9" cy="327.3" r="2.35" fill="#0000ff"/><circle cx="312.3" cy="327.9" r="2.35" fill="#0000ff"/><circle cx="313.7" cy="328.4" r="2.35" fill="#0000ff"/><circle cx="315.1" cy="329.2" r="2.35" fill="#0000ff"/><circle cx="316.5" cy="329.7" r="2.35" fill="#0000ff"/><circle cx="317.9" cy="331.2" r="2.35" fill="#0000ff"/><circle cx="319.3" cy="331.5" r="2.35" fill="#0000ff"/><circle cx="320.7" cy="332.8" r="2.35" fill="#0000ff"/><circle cx="323.3" cy="334.1" r="2.35" fill="#0000ff"/><circle cx="325.9" cy="335.1" r="2.35" fill="#0000ff"/><circle cx="328.5" cy="337.1" r="2.35" fill="#0000ff"/><circle cx="331.1" cy="338.9" r="2.35" fill="#0000ff"/><circle cx="333.7" cy="341.5" r="2.35" fill="#0000ff"/><circle cx="336.3" cy="343.3" r="2.35" fill="#0000ff"/><circle cx="338.9" cy="345.1" r="2.35" fill="#0000ff"/><circle cx="341.5" cy="347.5" r="2.35" fill="#0000ff"/><circle cx="344.1" cy="350.0" r="2.35" fill="#0000ff"/><circle cx="346.7" cy="352.6" r="2.35" fill="#0000ff"/><circle cx="349.3" cy="355.2" r="2.35" fill="#0000ff"/><circle cx="351.9" cy="357.6" r="2.35" fill="#0000ff"/><circle cx="354.5" cy="360.3" r="2.35" fill="#0000ff"/><circle cx="357.1" cy="362.9" r="2.35" fill="#0000ff"/><circle cx="359.7" cy="366.6" r="2.35" fill="#0000ff"/><circle cx="362.3" cy="369.5" r="2.35" fill="#0000ff"/><circle cx="364.9" cy="372.4" r="2.35" fill="#0000ff"/><circle cx="367.5" cy="375.9" r="2.35" fill="#0000ff"/><circle cx="370.1" cy="379.5" r="2.35" fill="#0000ff"/><circle cx="372.7" cy="381.7" r="2.35" fill="#0000ff"/><circle cx="375.3" cy="385.0" r="2.35" fill="#0000ff"/><circle cx="377.9" cy="388.9" r="2.35" fill="#0000ff"/><circle cx="380.5" cy="391.9" r="2.35" fill="#0000ff"/><circle cx="383.1" cy="395.3" r="2.35" fill="#0000ff"/><circle cx="385.7" cy="398.9" r="2.35" fill="#0000ff"/><circle cx="388.3" cy="401.9" r="2.35" fill="#0000ff"/><circle cx="391.3" cy="409.6" r="2.35" fill="#0000ff"/><circle cx="395.5" cy="414.7" r="2.35" fill="#0000ff"/><circle cx="398.1" cy="416.4" r="2.35" fill="#0000ff"/><circle cx="394.7" cy="419.8" r="2.35" fill="#0000ff"/><circle cx="399.8" cy="421.5" r="2.35" fill="#0000ff"/><circle cx="402.3" cy="428.2" r="2.35" fill="#0000ff"/><circle cx="400.6" cy="430.8" r="2.35" fill="#0000ff"/><circle cx="404.8" cy="433.3" r="2.35" fill="#0000ff"/><circle cx="405.7" cy="437.5" r="2.35" fill="#0000ff"/><circle cx="407.4" cy="441.8" r="2.35" fill="#0000ff"/><circle cx="409.1" cy="445.1" r="2.35" fill="#0000ff"/><circle cx="410.8" cy="456.1" r="2.35" fill="#0000ff"/><circle cx="413.3" cy="456.1" r="2.35" fill="#0000ff"/><circle cx="417.5" cy="457.0" r="2.35" fill="#0000ff"/></g><g><path transform="translate(80.08 31.50) scale(0.01123 -0.01123)" d="M515 0V1237L197 1010V1180L530 1409H696V0Z" fill="#000" stroke="#fff" stroke-width="22.3"/><path transform="translate(48.10 65.70) scale(0.01123 -0.01123)" d="M515 0V1237L197 1010V1180L530 1409H696V0Z" fill="#000" stroke="#fff" stroke-width="22.3"/><text x="60.89" y="65.70" font-family="Liberation Sans" font-size="23" fill="#000" xml:space="preserve">0</text><text x="73.68" y="56.95" font-family="Liberation Sans" font-size="15.5" fill="#000" xml:space="preserve">−</text><path transform="translate(82.73 55.30) scale(0.00757 -0.00757)" d="M515 0V1237L197 1010V1180L530 1409H696V0Z" fill="#000" stroke="#fff" stroke-width="33.0"/><path transform="translate(45.52 97.70) scale(0.01123 -0.01123)" d="M515 0V1237L197 1010V1180L530 1409H696V0Z" fill="#000" stroke="#fff" stroke-width="22.3"/><text x="58.32" y="97.70" font-family="Liberation Sans" font-size="23" fill="#000" xml:space="preserve">0</text><text x="71.11" y="88.95" font-family="Liberation Sans" font-size="15.5" fill="#000" xml:space="preserve">−</text><text x="80.16" y="87.30" font-family="Liberation Sans" font-size="15.5" fill="#000" xml:space="preserve">2</text><path transform="translate(45.43 129.70) scale(0.01123 -0.01123)" d="M515 0V1237L197 1010V1180L530 1409H696V0Z" fill="#000" stroke="#fff" stroke-width="22.3"/><text x="58.22" y="129.70" font-family="Liberation Sans" font-size="23" fill="#000" xml:space="preserve">0</text><text x="71.01" y="120.95" font-family="Liberation Sans" font-size="15.5" fill="#000" xml:space="preserve">−</text><text x="80.06" y="119.30" font-family="Liberation Sans" font-size="15.5" fill="#000" xml:space="preserve">3</text><path transform="translate(45.20 161.70) scale(0.01123 -0.01123)" d="M515 0V1237L197 1010V1180L530 1409H696V0Z" fill="#000" stroke="#fff" stroke-width="22.3"/><text x="57.99" y="161.70" font-family="Liberation Sans" font-size="23" fill="#000" xml:space="preserve">0</text><text x="70.78" y="152.95" font-family="Liberation Sans" font-size="15.5" fill="#000" xml:space="preserve">−</text><text x="79.83" y="151.30" font-family="Liberation Sans" font-size="15.5" fill="#000" xml:space="preserve">4</text><path transform="translate(45.40 193.70) scale(0.01123 -0.01123)" d="M515 0V1237L197 1010V1180L530 1409H696V0Z" fill="#000" stroke="#fff" stroke-width="22.3"/><text x="58.19" y="193.70" font-family="Liberation Sans" font-size="23" fill="#000" xml:space="preserve">0</text><text x="70.98" y="184.95" font-family="Liberation Sans" font-size="15.5" fill="#000" xml:space="preserve">−</text><text x="80.03" y="183.30" font-family="Liberation Sans" font-size="15.5" fill="#000" xml:space="preserve">5</text><path transform="translate(45.43 225.70) scale(0.01123 -0.01123)" d="M515 0V1237L197 1010V1180L530 1409H696V0Z" fill="#000" stroke="#fff" stroke-width="22.3"/><text x="58.22" y="225.70" font-family="Liberation Sans" font-size="23" fill="#000" xml:space="preserve">0</text><text x="71.01" y="216.95" font-family="Liberation Sans" font-size="15.5" fill="#000" xml:space="preserve">−</text><text x="80.06" y="215.30" font-family="Liberation Sans" font-size="15.5" fill="#000" xml:space="preserve">6</text><path transform="translate(45.52 257.70) scale(0.01123 -0.01123)" d="M515 0V1237L197 1010V1180L530 1409H696V0Z" fill="#000" stroke="#fff" stroke-width="22.3"/><text x="58.32" y="257.70" font-family="Liberation Sans" font-size="23" fill="#000" xml:space="preserve">0</text><text x="71.11" y="248.95" font-family="Liberation Sans" font-size="15.5" fill="#000" xml:space="preserve">−</text><text x="80.16" y="247.30" font-family="Liberation Sans" font-size="15.5" fill="#000" xml:space="preserve">7</text><path transform="translate(45.42 289.70) scale(0.01123 -0.01123)" d="M515 0V1237L197 1010V1180L530 1409H696V0Z" fill="#000" stroke="#fff" stroke-width="22.3"/><text x="58.21" y="289.70" font-family="Liberation Sans" font-size="23" fill="#000" xml:space="preserve">0</text><text x="71.00" y="280.95" font-family="Liberation Sans" font-size="15.5" fill="#000" xml:space="preserve">−</text><text x="80.05" y="279.30" font-family="Liberation Sans" font-size="15.5" fill="#000" xml:space="preserve">8</text><path transform="translate(45.48 321.70) scale(0.01123 -0.01123)" d="M515 0V1237L197 1010V1180L530 1409H696V0Z" fill="#000" stroke="#fff" stroke-width="22.3"/><text x="58.27" y="321.70" font-family="Liberation Sans" font-size="23" fill="#000" xml:space="preserve">0</text><text x="71.06" y="312.95" font-family="Liberation Sans" font-size="15.5" fill="#000" xml:space="preserve">−</text><text x="80.11" y="311.30" font-family="Liberation Sans" font-size="15.5" fill="#000" xml:space="preserve">9</text><path transform="translate(36.73 353.70) scale(0.01123 -0.01123)" d="M515 0V1237L197 1010V1180L530 1409H696V0Z" fill="#000" stroke="#fff" stroke-width="22.3"/><text x="49.52" y="353.70" font-family="Liberation Sans" font-size="23" fill="#000" xml:space="preserve">0</text><text x="62.31" y="344.95" font-family="Liberation Sans" font-size="15.5" fill="#000" xml:space="preserve">−</text><path transform="translate(71.36 343.30) scale(0.00757 -0.00757)" d="M515 0V1237L197 1010V1180L530 1409H696V0Z" fill="#000" stroke="#fff" stroke-width="33.0"/><text x="79.99" y="343.30" font-family="Liberation Sans" font-size="15.5" fill="#000" xml:space="preserve">0</text><path transform="translate(39.48 385.70) scale(0.01123 -0.01123)" d="M515 0V1237L197 1010V1180L530 1409H696V0Z" fill="#000" stroke="#fff" stroke-width="22.3"/><text x="52.27" y="385.70" font-family="Liberation Sans" font-size="23" fill="#000" xml:space="preserve">0</text><text x="65.06" y="376.95" font-family="Liberation Sans" font-size="15.5" fill="#000" xml:space="preserve">−</text><path transform="translate(74.11 375.30) scale(0.00757 -0.00757)" d="M515 0V1237L197 1010V1180L530 1409H696V0Z" fill="#000" stroke="#fff" stroke-width="33.0"/><path transform="translate(82.73 375.30) scale(0.00757 -0.00757)" d="M515 0V1237L197 1010V1180L530 1409H696V0Z" fill="#000" stroke="#fff" stroke-width="33.0"/><path transform="translate(36.90 417.70) scale(0.01123 -0.01123)" d="M515 0V1237L197 1010V1180L530 1409H696V0Z" fill="#000" stroke="#fff" stroke-width="22.3"/><text x="49.70" y="417.70" font-family="Liberation Sans" font-size="23" fill="#000" xml:space="preserve">0</text><text x="62.49" y="408.95" font-family="Liberation Sans" font-size="15.5" fill="#000" xml:space="preserve">−</text><path transform="translate(71.54 407.30) scale(0.00757 -0.00757)" d="M515 0V1237L197 1010V1180L530 1409H696V0Z" fill="#000" stroke="#fff" stroke-width="33.0"/><text x="80.16" y="407.30" font-family="Liberation Sans" font-size="15.5" fill="#000" xml:space="preserve">2</text><path transform="translate(36.81 449.70) scale(0.01123 -0.01123)" d="M515 0V1237L197 1010V1180L530 1409H696V0Z" fill="#000" stroke="#fff" stroke-width="22.3"/><text x="49.60" y="449.70" font-family="Liberation Sans" font-size="23" fill="#000" xml:space="preserve">0</text><text x="62.39" y="440.95" font-family="Liberation Sans" font-size="15.5" fill="#000" xml:space="preserve">−</text><path transform="translate(71.44 439.30) scale(0.00757 -0.00757)" d="M515 0V1237L197 1010V1180L530 1409H696V0Z" fill="#000" stroke="#fff" stroke-width="33.0"/><text x="80.06" y="439.30" font-family="Liberation Sans" font-size="15.5" fill="#000" xml:space="preserve">3</text><path transform="translate(36.58 481.70) scale(0.01123 -0.01123)" d="M515 0V1237L197 1010V1180L530 1409H696V0Z" fill="#000" stroke="#fff" stroke-width="22.3"/><text x="49.37" y="481.70" font-family="Liberation Sans" font-size="23" fill="#000" xml:space="preserve">0</text><text x="62.16" y="472.95" font-family="Liberation Sans" font-size="15.5" fill="#000" xml:space="preserve">−</text><path transform="translate(71.21 471.30) scale(0.00757 -0.00757)" d="M515 0V1237L197 1010V1180L530 1409H696V0Z" fill="#000" stroke="#fff" stroke-width="33.0"/><text x="79.83" y="471.30" font-family="Liberation Sans" font-size="15.5" fill="#000" xml:space="preserve">4</text><path transform="translate(85.89 507.00) scale(0.01123 -0.01123)" d="M515 0V1237L197 1010V1180L530 1409H696V0Z" fill="#000" stroke="#fff" stroke-width="22.3"/><path transform="translate(220.55 507.00) scale(0.01123 -0.01123)" d="M515 0V1237L197 1010V1180L530 1409H696V0Z" fill="#000" stroke="#fff" stroke-width="22.3"/><text x="233.34" y="507.00" font-family="Liberation Sans" font-size="23" fill="#000" xml:space="preserve">0</text><path transform="translate(359.68 507.00) scale(0.01123 -0.01123)" d="M515 0V1237L197 1010V1180L530 1409H696V0Z" fill="#000" stroke="#fff" stroke-width="22.3"/><text x="372.47" y="507.00" font-family="Liberation Sans" font-size="23" fill="#000" xml:space="preserve">0</text><text x="385.26" y="496.60" font-family="Liberation Sans" font-size="15.5" fill="#000" xml:space="preserve">2</text><text x="151.5" y="540" font-family="Liberation Sans" font-size="25">Neutron Energy (MeV)</text><text transform="translate(24.8 428) rotate(-90)" font-family="Liberation Sans" font-size="24.9">Neutron yield ( n / sr / MeV / ion )</text><circle cx="117.45" cy="57.2" r="1.95" fill="none" stroke="#333" stroke-width="1.1"/><circle cx="126.1" cy="160.4" r="1.95" fill="none" stroke="#333" stroke-width="1.1"/><circle cx="126.1" cy="257.2" r="1.95" fill="none" stroke="#333" stroke-width="1.1"/><text x="106.51" y="64.80" font-family="Liberation Sans" font-size="15" fill="#222" xml:space="preserve">0</text><text x="119.87" y="64.80" font-family="Liberation Sans" font-size="15" fill="#222" xml:space="preserve">(</text><text x="123.39" y="65.20" font-family="Liberation Sans" font-size="16" fill="#222" xml:space="preserve">×</text><path transform="translate(132.56 64.80) scale(0.00732 -0.00732)" d="M515 0V1237L197 1010V1180L530 1409H696V0Z" fill="#222" stroke="#fff" stroke-width="34.1"/><text x="140.21" y="64.80" font-family="Liberation Sans" font-size="15" fill="#222" xml:space="preserve">0</text><text x="149.73" y="58.00" font-family="Liberation Sans" font-size="9.5" fill="#222" xml:space="preserve">0</text><text x="155.51" y="64.80" font-family="Liberation Sans" font-size="15" fill="#222" xml:space="preserve">)</text><text x="106.13" y="167.60" font-family="Liberation Sans" font-size="15" fill="#222" xml:space="preserve">3</text><text x="114.13" y="167.60" font-family="Liberation Sans" font-size="15" fill="#222" xml:space="preserve">7</text><text x="129.07" y="167.60" font-family="Liberation Sans" font-size="15" fill="#222" xml:space="preserve">(</text><text x="131.89" y="168.00" font-family="Liberation Sans" font-size="16" fill="#222" xml:space="preserve">×</text><path transform="translate(142.16 167.60) scale(0.00732 -0.00732)" d="M515 0V1237L197 1010V1180L530 1409H696V0Z" fill="#222" stroke="#fff" stroke-width="34.1"/><text x="149.81" y="167.60" font-family="Liberation Sans" font-size="15" fill="#222" xml:space="preserve">0</text><text x="158.18" y="160.50" font-family="Liberation Sans" font-size="9.5" fill="#222" xml:space="preserve">-</text><text x="161.84" y="160.50" font-family="Liberation Sans" font-size="9.5" fill="#222" xml:space="preserve">3</text><text x="168.01" y="167.60" font-family="Liberation Sans" font-size="15" fill="#222" xml:space="preserve">)</text><text x="105.94" y="264.40" font-family="Liberation Sans" font-size="15" fill="#222" xml:space="preserve">6</text><text x="114.31" y="264.40" font-family="Liberation Sans" font-size="15" fill="#222" xml:space="preserve">0</text><text x="129.07" y="264.40" font-family="Liberation Sans" font-size="15" fill="#222" xml:space="preserve">(</text><text x="131.89" y="264.80" font-family="Liberation Sans" font-size="16" fill="#222" xml:space="preserve">×</text><path transform="translate(142.16 264.40) scale(0.00732 -0.00732)" d="M515 0V1237L197 1010V1180L530 1409H696V0Z" fill="#222" stroke="#fff" stroke-width="34.1"/><text x="149.81" y="264.40" font-family="Liberation Sans" font-size="15" fill="#222" xml:space="preserve">0</text><text x="158.18" y="257.30" font-family="Liberation Sans" font-size="9.5" fill="#222" xml:space="preserve">-</text><text x="161.72" y="257.30" font-family="Liberation Sans" font-size="9.5" fill="#222" xml:space="preserve">6</text><text x="168.01" y="264.40" font-family="Liberation Sans" font-size="15" fill="#222" xml:space="preserve">)</text><text x="258.04" y="60.70" font-family="Liberation Sans" font-size="15.2" fill="#000" xml:space="preserve">80.5 MeV/u </text><path transform="translate(340.00 54.40) scale(0.00513 -0.00513)" d="M515 0V1237L197 1010V1180L530 1409H696V0Z" fill="#000" stroke="#fff" stroke-width="48.8"/><text x="345.84" y="54.40" font-family="Liberation Sans" font-size="10.5" fill="#000" xml:space="preserve">2</text><text x="351.68" y="60.70" font-family="Liberation Sans" font-size="15.2" fill="#000" xml:space="preserve">C + W</text><circle cx="124.3" cy="379.6" r="3.8" fill="#000"/><rect x="121.9" y="399.6" width="4.8" height="4.8" fill="#ff0000"/><circle cx="124.4" cy="424.7" r="2.0" fill="#0000ff"/><circle cx="124.4" cy="446.9" r="2.0" fill="#00ff00"/><text x="130.6" y="384.0" font-family="Liberation Sans" font-size="17.7">Exp</text><text x="130.6" y="406.2" font-family="Liberation Sans" font-size="17.7">GEANT4</text><text x="130.6" y="429.0" font-family="Liberation Sans" font-size="17.7">PHITS</text><text x="130.6" y="450.8" font-family="Liberation Sans" font-size="17.7">FLUKA</text></g>
</svg></body></html>
